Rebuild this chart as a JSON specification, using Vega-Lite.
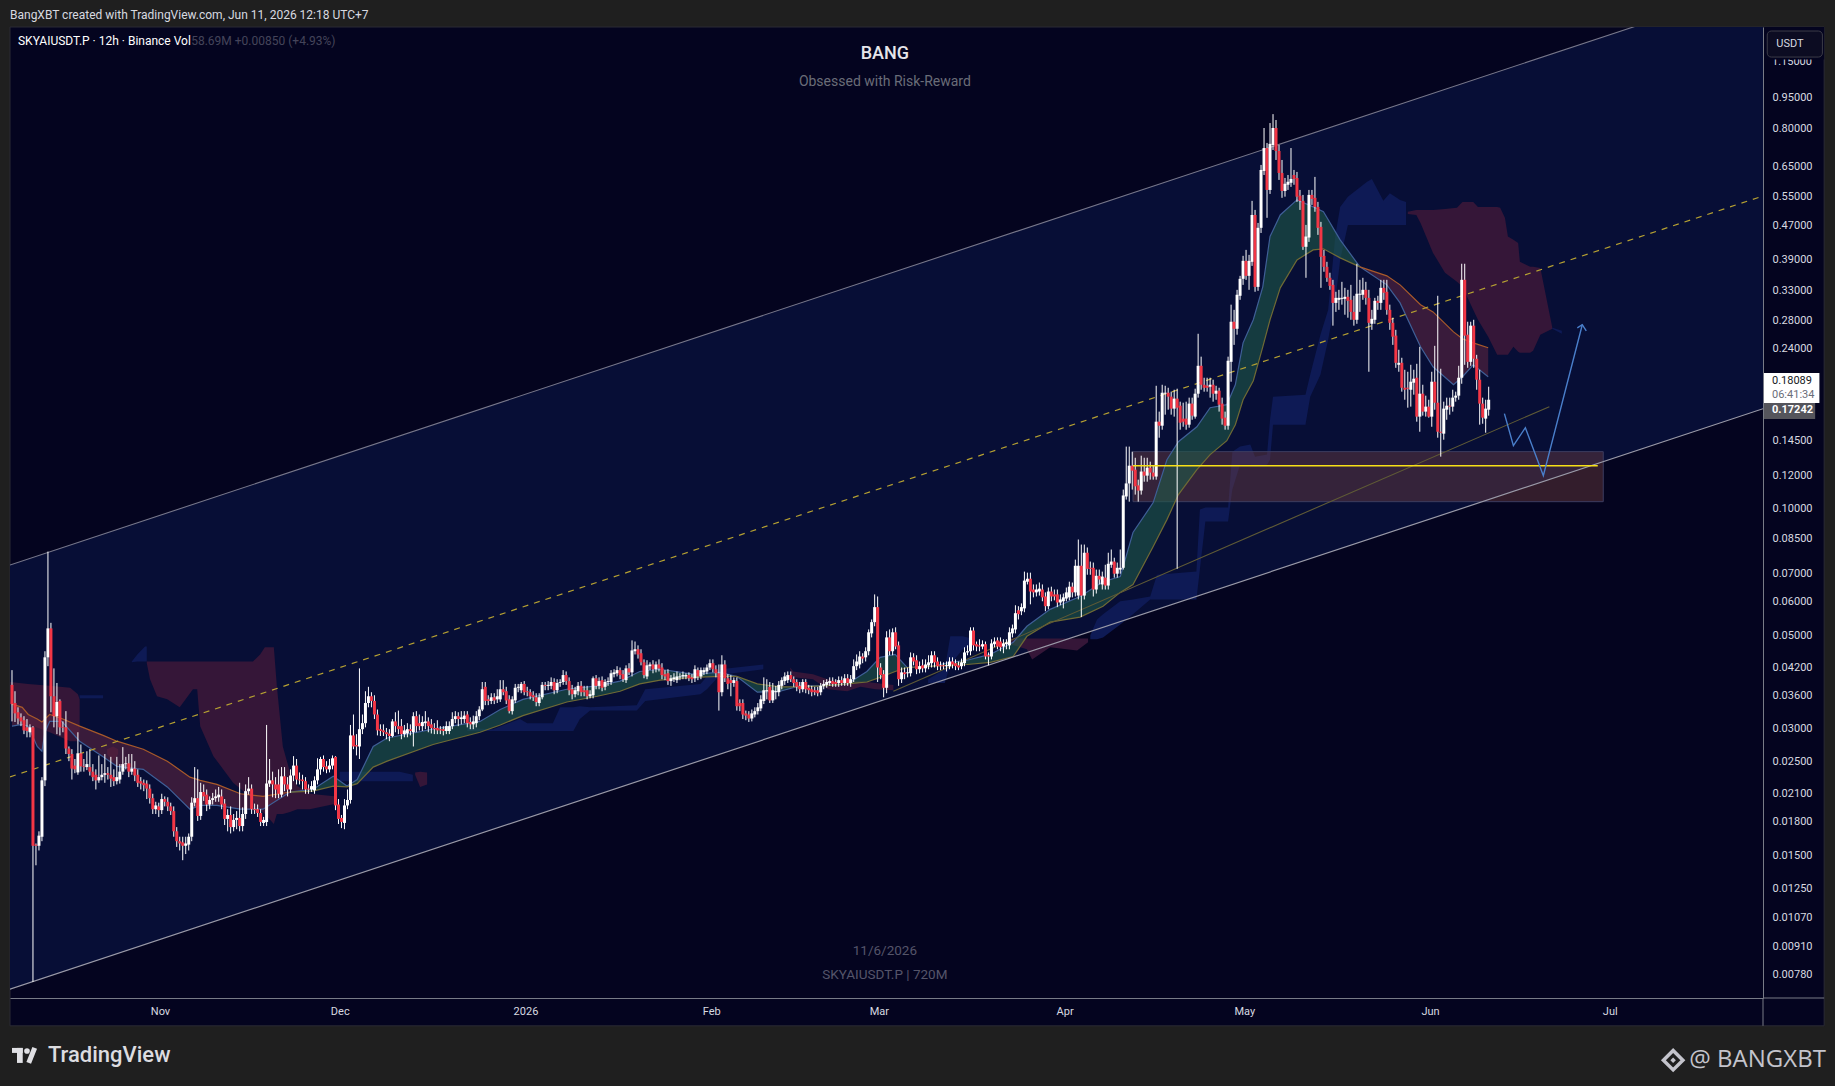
{
"$schema":"https://vega.github.io/schema/vega-lite/v6.json",
"width":1753,"height":971,
"autosize":"none",
"padding":{"left":10,"top":27,"right":72,"bottom":88},
"background":"#1f1f1f",
"config":{"view":{"stroke":null},"font":"Roboto","scale":{"continuousPadding":0}},
"resolve":{"axis":{"x":"independent","y":"independent"},"scale":{"color":"independent"}},
"layer":[
{"data":{"values":[{"d":"2025-10-06T23:00","d2":"2026-08-05T19:00","p":1.3933,"p2":0.0059}]},
 "mark":{"type":"rect","color":"#04041f","stroke":"#2a2a35","strokeWidth":1},
 "encoding":{
  "x":{"field":"d","type":"temporal","title":null,"scale":{"domain":["2025-10-06T23:00","2026-07-26T14:00"],"nice":false},
   "axis":{"zindex":1,"values":["2025-11-01T00:00","2025-12-01T00:00","2026-01-01T00:00","2026-02-01T00:00","2026-03-01T00:00","2026-04-01T00:00","2026-05-01T00:00","2026-06-01T00:00","2026-07-01T00:00"],
    "labelExpr":"month(datum.value)==0?'2026':timeFormat(datum.value,'%b')","grid":false,"ticks":false,"domainColor":"#787b86","labelColor":"#d8dae0","labelFontSize":11,"labelPadding":7,"labelFlush":false,"labelOverlap":false,"title":null}},
  "x2":{"field":"d2"},
  "y":{"field":"p","type":"quantitative","title":null,"scale":{"type":"log","domain":[0.00687,1.3933],"nice":false},
   "axis":{"orient":"right","zindex":1,"values":[0.95,0.8,0.65,0.55,0.47,0.39,0.33,0.28,0.24,0.145,0.12,0.1,0.085,0.07,0.06,0.05,0.042,0.036,0.03,0.025,0.021,0.018,0.015,0.0125,0.0107,0.0091,0.0078],
    "labelExpr":"format(datum.value,'.5f')","grid":false,"ticks":false,"domainColor":"#787b86","labelColor":"#d8dae0","labelFontSize":11,"labelPadding":9,"labelOverlap":false,"title":null}},
  "y2":{"field":"p2"}}},
{"data":{"values":[{"d":"2025-10-06T23:00","top":0.0734,"bot":0.00721},{"d":"2026-07-26T14:00","top":1.763,"bot":0.1726}]},
 "mark":{"type":"area","color":"#070e36","clip":true},
 "encoding":{"x":{"field":"d","type":"temporal","axis":null,"scale":{"domain":["2025-10-06T23:00","2026-07-26T14:00"],"nice":false}},
  "y":{"field":"top","type":"quantitative","axis":null,"scale":{"type":"log","domain":[0.00687,1.3933],"nice":false}},"y2":{"field":"bot"}}},
{"data":{"name":"clouds"},
 "mark":{"type":"area","clip":true},
 "encoding":{"x":{"field":"d","type":"temporal","axis":null,"scale":{"domain":["2025-10-06T23:00","2026-07-26T14:00"],"nice":false}},
  "y":{"field":"top","type":"quantitative","axis":null,"scale":{"type":"log","domain":[0.00687,1.3933],"nice":false}},"y2":{"field":"bot"},
  "detail":{"field":"seg"},
  "color":{"field":"kind","type":"nominal","legend":null,"scale":{"domain":["blue","red"],"range":["#0e1a55","#351638"]}}}},
{"data":{"values":[{"d":"2026-04-12T10:00","d2":"2026-06-29T22:00","p":0.1365,"p2":0.1038}]},
 "mark":{"type":"rect","color":"#7a4440","fillOpacity":0.4,"stroke":"#3d3d60","strokeWidth":1},
 "encoding":{"x":{"field":"d","type":"temporal","axis":null,"scale":{"domain":["2025-10-06T23:00","2026-07-26T14:00"],"nice":false}},"x2":{"field":"d2"},
  "y":{"field":"p","type":"quantitative","axis":null,"scale":{"type":"log","domain":[0.00687,1.3933],"nice":false}},"y2":{"field":"p2"}}},
{"data":{"name":"ribbon"},
 "mark":{"type":"area","clip":true,"opacity":0.6},
 "encoding":{"x":{"field":"d","type":"temporal","axis":null,"scale":{"domain":["2025-10-06T23:00","2026-07-26T14:00"],"nice":false}},
  "y":{"field":"fast","type":"quantitative","axis":null,"scale":{"type":"log","domain":[0.00687,1.3933],"nice":false}},"y2":{"field":"slow"},
  "color":{"field":"trend","type":"nominal","legend":null,"scale":{"domain":["down","up","down2"],"range":["#5c2440","#1f5a48","#5c2440"]}}}},
{"data":{"name":"ribbon"},
 "mark":{"type":"line","clip":true,"strokeWidth":1.2,"color":"#3f5f97"},
 "encoding":{"x":{"field":"d","type":"temporal","axis":null,"scale":{"domain":["2025-10-06T23:00","2026-07-26T14:00"],"nice":false}},
  "y":{"field":"fast","type":"quantitative","axis":null,"scale":{"type":"log","domain":[0.00687,1.3933],"nice":false}},"detail":{"field":"trend"}}},
{"data":{"name":"ribbon"},
 "mark":{"type":"line","clip":true,"strokeWidth":1.2},
 "encoding":{"x":{"field":"d","type":"temporal","axis":null,"scale":{"domain":["2025-10-06T23:00","2026-07-26T14:00"],"nice":false}},
  "y":{"field":"slow","type":"quantitative","axis":null,"scale":{"type":"log","domain":[0.00687,1.3933],"nice":false}},
  "stroke":{"field":"trend","type":"nominal","legend":null,"scale":{"domain":["down","up","down2"],"range":["#a85a2a","#6f6a35","#a85a2a"]}}}},
{"data":{"values":[{"d":"2025-10-06T23:00","top":0.0734},{"d":"2026-07-26T14:00","top":1.763}]},
 "mark":{"type":"line","clip":true,"color":"#77778a","strokeWidth":1.1},
 "encoding":{"x":{"field":"d","type":"temporal","axis":null,"scale":{"domain":["2025-10-06T23:00","2026-07-26T14:00"],"nice":false}},
  "y":{"field":"top","type":"quantitative","axis":null,"scale":{"type":"log","domain":[0.00687,1.3933],"nice":false}}}},
{"data":{"values":[{"d":"2025-10-06T23:00","bot":0.00721},{"d":"2026-07-26T14:00","bot":0.1726}]},
 "mark":{"type":"line","clip":true,"color":"#9a9aa8","strokeWidth":1.2},
 "encoding":{"x":{"field":"d","type":"temporal","axis":null,"scale":{"domain":["2025-10-06T23:00","2026-07-26T14:00"],"nice":false}},
  "y":{"field":"bot","type":"quantitative","axis":null,"scale":{"type":"log","domain":[0.00687,1.3933],"nice":false}}}},
{"data":{"values":[{"d":"2025-10-06T23:00","mid":0.02303},{"d":"2026-07-26T14:00","mid":0.5527}]},
 "mark":{"type":"line","clip":true,"color":"#b5a032","strokeWidth":1.2,"strokeDash":[6,6]},
 "encoding":{"x":{"field":"d","type":"temporal","axis":null,"scale":{"domain":["2025-10-06T23:00","2026-07-26T14:00"],"nice":false}},
  "y":{"field":"mid","type":"quantitative","axis":null,"scale":{"type":"log","domain":[0.00687,1.3933],"nice":false}}}},
{"data":{"values":[{"d":"2026-03-03T10:00","p":0.0368},{"d":"2026-06-20T22:00","p":0.1746}]},
 "mark":{"type":"line","color":"#5f5a36","strokeWidth":1.1},
 "encoding":{"x":{"field":"d","type":"temporal","axis":null,"scale":{"domain":["2025-10-06T23:00","2026-07-26T14:00"],"nice":false}},
  "y":{"field":"p","type":"quantitative","axis":null,"scale":{"type":"log","domain":[0.00687,1.3933],"nice":false}}}},
{"data":{"name":"candles"},
 "mark":{"type":"rule","color":"#ffffff","strokeWidth":1},
 "encoding":{"x":{"field":"d","type":"temporal","axis":null,"scale":{"domain":["2025-10-06T23:00","2026-07-26T14:00"],"nice":false}},
  "y":{"field":"l","type":"quantitative","axis":null,"scale":{"type":"log","domain":[0.00687,1.3933],"nice":false}},"y2":{"field":"h"}}},
{"data":{"name":"candles"},
 "mark":{"type":"bar","size":3,"orient":"vertical"},
 "encoding":{"x":{"field":"d","type":"temporal","axis":null,"scale":{"domain":["2025-10-06T23:00","2026-07-26T14:00"],"nice":false}},
  "y":{"field":"o","type":"quantitative","axis":null,"scale":{"type":"log","domain":[0.00687,1.3933],"nice":false}},"y2":{"field":"c"},
  "color":{"condition":{"test":"datum.c>=datum.o","value":"#ffffff"},"value":"#f23645"}}},
{"data":{"values":[{"d":"2026-04-12T10:00","p":0.1264},{"d":"2026-06-29T00:00","p":0.1264}]},
 "mark":{"type":"line","color":"#f7e017","strokeWidth":1.5},
 "encoding":{"x":{"field":"d","type":"temporal","axis":null,"scale":{"domain":["2025-10-06T23:00","2026-07-26T14:00"],"nice":false}},
  "y":{"field":"p","type":"quantitative","axis":null,"scale":{"type":"log","domain":[0.00687,1.3933],"nice":false}}}},
{"data":{"values":[
 {"part":"path","d":"2026-06-13T10:00","p":0.168},{"part":"path","d":"2026-06-14T22:00","p":0.141},{"part":"path","d":"2026-06-16T22:00","p":0.1556},{"part":"path","d":"2026-06-19T22:00","p":0.1197},{"part":"path","d":"2026-06-26T10:00","p":0.2733},
 {"part":"head","d":"2026-06-25T14:00","p":0.2686},{"part":"head","d":"2026-06-26T10:00","p":0.2733},{"part":"head","d":"2026-06-27T02:00","p":0.2644}]},
 "mark":{"type":"line","color":"#4a7fcb","strokeWidth":1.4},
 "encoding":{"x":{"field":"d","type":"temporal","axis":null,"scale":{"domain":["2025-10-06T23:00","2026-07-26T14:00"],"nice":false}},
  "y":{"field":"p","type":"quantitative","axis":null,"scale":{"type":"log","domain":[0.00687,1.3933],"nice":false}},"detail":{"field":"part"}}},
{"data":{"values":[{"part":"v","d":"2026-07-26T14:00","p":0.00687},{"part":"v","d":"2026-07-26T14:00","p":0.0059},{"part":"h","d":"2026-07-26T14:00","p":0.00687},{"part":"h","d":"2026-08-05T19:00","p":0.00687}]},
 "mark":{"type":"line","color":"#787b86","strokeWidth":1},
 "encoding":{"x":{"field":"d","type":"temporal","axis":null,"scale":{"domain":["2025-10-06T23:00","2026-07-26T14:00"],"nice":false}},
  "y":{"field":"p","type":"quantitative","axis":null,"scale":{"type":"log","domain":[0.00687,1.3933],"nice":false}},"detail":{"field":"part"}}},
{"data":{"values":[{"d":"2026-07-28T02:00","p":1.15,"t":"1.15000"}]},
 "mark":{"type":"text","color":"#d8dae0","fontSize":11,"align":"left"},
 "encoding":{"x":{"field":"d","type":"temporal","axis":null,"scale":{"domain":["2025-10-06T23:00","2026-07-26T14:00"],"nice":false}},
  "y":{"field":"p","type":"quantitative","axis":null,"scale":{"type":"log","domain":[0.00687,1.3933],"nice":false}},"text":{"field":"t"}}},
{"data":{"values":[{"d":"2026-07-26T19:00","d2":"2026-08-05T19:00","p":1.3933,"p2":1.1663}]},
 "mark":{"type":"rect","color":"#04041f"},
 "encoding":{"x":{"field":"d","type":"temporal","axis":null,"scale":{"domain":["2025-10-06T23:00","2026-07-26T14:00"],"nice":false}},"x2":{"field":"d2"},
  "y":{"field":"p","type":"quantitative","axis":null,"scale":{"type":"log","domain":[0.00687,1.3933],"nice":false}},"y2":{"field":"p2"}}},
{"data":{"values":[{"d":"2026-07-27T07:00","d2":"2026-08-05T12:00","p":1.363,"p2":1.182}]},
 "mark":{"type":"rect","color":"#0c0c22","stroke":"#3c3c48","strokeWidth":1,"cornerRadius":4},
 "encoding":{"x":{"field":"d","type":"temporal","axis":null,"scale":{"domain":["2025-10-06T23:00","2026-07-26T14:00"],"nice":false}},"x2":{"field":"d2"},
  "y":{"field":"p","type":"quantitative","axis":null,"scale":{"type":"log","domain":[0.00687,1.3933],"nice":false}},"y2":{"field":"p2"}}},
{"data":{"values":[{"d":"2026-07-26T14:00","d2":"2026-08-05T00:00","p":0.2099,"p2":0.1781}]},
 "mark":{"type":"rect","color":"#ffffff"},
 "encoding":{"x":{"field":"d","type":"temporal","axis":null,"scale":{"domain":["2025-10-06T23:00","2026-07-26T14:00"],"nice":false}},"x2":{"field":"d2"},
  "y":{"field":"p","type":"quantitative","axis":null,"scale":{"type":"log","domain":[0.00687,1.3933],"nice":false}},"y2":{"field":"p2"}}},
{"data":{"values":[{"d":"2026-07-26T14:00","d2":"2026-08-04T07:00","p":0.1781,"p2":0.1632}]},
 "mark":{"type":"rect","color":"#55555c"},
 "encoding":{"x":{"field":"d","type":"temporal","axis":null,"scale":{"domain":["2025-10-06T23:00","2026-07-26T14:00"],"nice":false}},"x2":{"field":"d2"},
  "y":{"field":"p","type":"quantitative","axis":null,"scale":{"type":"log","domain":[0.00687,1.3933],"nice":false}},"y2":{"field":"p2"}}},
{"data":{"values":[{"d":"2026-07-31T02:00","p":1.269,"t":"USDT"}]},
 "mark":{"type":"text","color":"#d8dae0","fontSize":11,"align":"center"},
 "encoding":{"x":{"field":"d","type":"temporal","axis":null,"scale":{"domain":["2025-10-06T23:00","2026-07-26T14:00"],"nice":false}},
  "y":{"field":"p","type":"quantitative","axis":null,"scale":{"type":"log","domain":[0.00687,1.3933],"nice":false}},"text":{"field":"t"}}},
{"data":{"values":[{"d":"2026-07-28T02:00","p":0.2009,"t":"0.18089"}]},
 "mark":{"type":"text","color":"#131722","fontSize":11,"align":"left"},
 "encoding":{"x":{"field":"d","type":"temporal","axis":null,"scale":{"domain":["2025-10-06T23:00","2026-07-26T14:00"],"nice":false}},
  "y":{"field":"p","type":"quantitative","axis":null,"scale":{"type":"log","domain":[0.00687,1.3933],"nice":false}},"text":{"field":"t"}}},
{"data":{"values":[{"d":"2026-07-28T02:00","p":0.1861,"t":"06:41:34"}]},
 "mark":{"type":"text","color":"#6a6d78","fontSize":11,"align":"left"},
 "encoding":{"x":{"field":"d","type":"temporal","axis":null,"scale":{"domain":["2025-10-06T23:00","2026-07-26T14:00"],"nice":false}},
  "y":{"field":"p","type":"quantitative","axis":null,"scale":{"type":"log","domain":[0.00687,1.3933],"nice":false}},"text":{"field":"t"}}},
{"data":{"values":[{"d":"2026-07-28T02:00","p":0.1715,"t":"0.17242"}]},
 "mark":{"type":"text","color":"#ffffff","fontSize":11,"align":"left","fontWeight":"bold"},
 "encoding":{"x":{"field":"d","type":"temporal","axis":null,"scale":{"domain":["2025-10-06T23:00","2026-07-26T14:00"],"nice":false}},
  "y":{"field":"p","type":"quantitative","axis":null,"scale":{"type":"log","domain":[0.00687,1.3933],"nice":false}},"text":{"field":"t"}}},
{"data":{"values":[{"d":"2025-10-06T23:00","p":1.488,"t":"BangXBT created with TradingView.com, Jun 11, 2026 12:18 UTC+7"}]},
 "mark":{"type":"text","color":"#d8dae0","fontSize":12,"align":"left"},
 "encoding":{"x":{"field":"d","type":"temporal","axis":null,"scale":{"domain":["2025-10-06T23:00","2026-07-26T14:00"],"nice":false}},
  "y":{"field":"p","type":"quantitative","axis":null,"scale":{"type":"log","domain":[0.00687,1.3933],"nice":false}},"text":{"field":"t"}}},
{"data":{"values":[{"d":"2025-10-08T07:00","p":1.2906,"t":"SKYAIUSDT.P · 12h · Binance  Vol"}]},
 "mark":{"type":"text","color":"#ffffff","fontSize":12,"align":"left"},
 "encoding":{"x":{"field":"d","type":"temporal","axis":null,"scale":{"domain":["2025-10-06T23:00","2026-07-26T14:00"],"nice":false}},
  "y":{"field":"p","type":"quantitative","axis":null,"scale":{"type":"log","domain":[0.00687,1.3933],"nice":false}},"text":{"field":"t"}}},
{"data":{"values":[{"d":"2025-11-06T05:00","p":1.2906,"t":"58.69M  +0.00850 (+4.93%)"}]},
 "mark":{"type":"text","color":"#44445a","fontSize":12,"align":"left"},
 "encoding":{"x":{"field":"d","type":"temporal","axis":null,"scale":{"domain":["2025-10-06T23:00","2026-07-26T14:00"],"nice":false}},
  "y":{"field":"p","type":"quantitative","axis":null,"scale":{"type":"log","domain":[0.00687,1.3933],"nice":false}},"text":{"field":"t"}}},
{"data":{"values":[{"d":"2026-03-02T00:00","p":1.202,"t":"BANG"}]},
 "mark":{"type":"text","color":"#e6e6ea","fontSize":18,"align":"center","fontWeight":500},
 "encoding":{"x":{"field":"d","type":"temporal","axis":null,"scale":{"domain":["2025-10-06T23:00","2026-07-26T14:00"],"nice":false}},
  "y":{"field":"p","type":"quantitative","axis":null,"scale":{"type":"log","domain":[0.00687,1.3933],"nice":false}},"text":{"field":"t"}}},
{"data":{"values":[{"d":"2026-03-02T00:00","p":1.031,"t":"Obsessed with Risk-Reward"}]},
 "mark":{"type":"text","color":"#6a6d78","fontSize":14,"align":"center"},
 "encoding":{"x":{"field":"d","type":"temporal","axis":null,"scale":{"domain":["2025-10-06T23:00","2026-07-26T14:00"],"nice":false}},
  "y":{"field":"p","type":"quantitative","axis":null,"scale":{"type":"log","domain":[0.00687,1.3933],"nice":false}},"text":{"field":"t"}}},
{"data":{"values":[{"d":"2026-03-02T00:00","p":0.00888,"t":"11/6/2026"},{"d":"2026-03-02T00:00","p":0.0078,"t":"SKYAIUSDT.P | 720M"}]},
 "mark":{"type":"text","color":"#55556a","fontSize":13.5,"align":"center"},
 "encoding":{"x":{"field":"d","type":"temporal","axis":null,"scale":{"domain":["2025-10-06T23:00","2026-07-26T14:00"],"nice":false}},
  "y":{"field":"p","type":"quantitative","axis":null,"scale":{"type":"log","domain":[0.00687,1.3933],"nice":false}},"text":{"field":"t"}}},
{"data":{"values":[{"d":"2025-10-07T07:00","d2":"2025-10-09T02:00","p":0.005228,"p2":0.005087},{"d":"2025-10-08T03:00","d2":"2025-10-09T02:00","p":0.005228,"p2":0.004816}]},
 "mark":{"type":"rect","color":"#e0e0e4"},
 "encoding":{"x":{"field":"d","type":"temporal","axis":null,"scale":{"domain":["2025-10-06T23:00","2026-07-26T14:00"],"nice":false}},"x2":{"field":"d2"},
  "y":{"field":"p","type":"quantitative","axis":null,"scale":{"type":"log","domain":[0.00687,1.3933],"nice":false}},"y2":{"field":"p2"}}},
{"data":{"values":[{"d":"2025-10-09T19:00","p":0.00514}]},
 "mark":{"type":"point","filled":true,"color":"#e0e0e4","size":32,"opacity":1},
 "encoding":{"x":{"field":"d","type":"temporal","axis":null,"scale":{"domain":["2025-10-06T23:00","2026-07-26T14:00"],"nice":false}},
  "y":{"field":"p","type":"quantitative","axis":null,"scale":{"type":"log","domain":[0.00687,1.3933],"nice":false}}}},
{"data":{"values":[{"d":"2025-10-10T02:00","p":0.004816},{"d":"2025-10-11T02:00","p":0.005228}]},
 "mark":{"type":"line","color":"#e0e0e4","strokeWidth":5},
 "encoding":{"x":{"field":"d","type":"temporal","axis":null,"scale":{"domain":["2025-10-06T23:00","2026-07-26T14:00"],"nice":false}},
  "y":{"field":"p","type":"quantitative","axis":null,"scale":{"type":"log","domain":[0.00687,1.3933],"nice":false}}}},
{"data":{"values":[{"d":"2025-10-13T07:00","p":0.00503,"t":"TradingView"}]},
 "mark":{"type":"text","color":"#dcdce0","fontSize":22,"fontWeight":500,"align":"left"},
 "encoding":{"x":{"field":"d","type":"temporal","axis":null,"scale":{"domain":["2025-10-06T23:00","2026-07-26T14:00"],"nice":false}},
  "y":{"field":"p","type":"quantitative","axis":null,"scale":{"type":"log","domain":[0.00687,1.3933],"nice":false}},"text":{"field":"t"}}},
{"data":{"values":[{"d":"2026-07-14T07:00","p":0.00489,"t":"@ BANGXBT"}]},
 "mark":{"type":"text","color":"#c4c4cc","fontSize":24,"font":"Open Sans","align":"left"},
 "encoding":{"x":{"field":"d","type":"temporal","axis":null,"scale":{"domain":["2025-10-06T23:00","2026-07-26T14:00"],"nice":false}},
  "y":{"field":"p","type":"quantitative","axis":null,"scale":{"type":"log","domain":[0.00687,1.3933],"nice":false}},"text":{"field":"t"}}},
{"data":{"values":[{"d":"2026-07-11T14:00","p":0.00489}]},
 "mark":{"type":"point","shape":"diamond","filled":false,"color":"#c4c4cc","strokeWidth":3.5,"size":380,"opacity":1},
 "encoding":{"x":{"field":"d","type":"temporal","axis":null,"scale":{"domain":["2025-10-06T23:00","2026-07-26T14:00"],"nice":false}},
  "y":{"field":"p","type":"quantitative","axis":null,"scale":{"type":"log","domain":[0.00687,1.3933],"nice":false}}}},
{"data":{"values":[{"d":"2026-07-11T14:00","p":0.00489}]},
 "mark":{"type":"point","shape":"diamond","filled":true,"color":"#c4c4cc","size":30,"opacity":1},
 "encoding":{"x":{"field":"d","type":"temporal","axis":null,"scale":{"domain":["2025-10-06T23:00","2026-07-26T14:00"],"nice":false}},
  "y":{"field":"p","type":"quantitative","axis":null,"scale":{"type":"log","domain":[0.00687,1.3933],"nice":false}}}}
],
"datasets":{
"clouds":[
{"seg":1,"kind":"red","d":"2025-10-07T00:00","top":0.0387,"bot":0.0343},{"seg":1,"kind":"red","d":"2025-10-10T00:00","top":0.0383,"bot":0.0307},{"seg":1,"kind":"red","d":"2025-10-13T14:00","top":0.0379,"bot":0.0294},{"seg":1,"kind":"red","d":"2025-10-17T00:00","top":0.0375,"bot":0.028},{"seg":1,"kind":"red","d":"2025-10-18T07:00","top":0.0362,"bot":0.028},{"seg":1,"kind":"red","d":"2025-10-18T14:00","top":0.0352,"bot":0.0294},
{"seg":2,"kind":"blue","d":"2025-10-18T14:00","top":0.036,"bot":0.0354},{"seg":2,"kind":"blue","d":"2025-10-22T12:00","top":0.036,"bot":0.0354},
{"seg":3,"kind":"red","d":"2025-10-23T04:00","top":0.0268,"bot":0.0261},{"seg":3,"kind":"red","d":"2025-10-24T04:00","top":0.0272,"bot":0.025},{"seg":3,"kind":"red","d":"2025-10-25T00:00","top":0.0268,"bot":0.0261},
{"seg":4,"kind":"blue","d":"2025-10-27T07:00","top":0.0433,"bot":0.0431},{"seg":4,"kind":"blue","d":"2025-10-28T05:00","top":0.045,"bot":0.0433},{"seg":4,"kind":"blue","d":"2025-10-29T12:00","top":0.047,"bot":0.0433},{"seg":4,"kind":"blue","d":"2025-10-29T19:00","top":0.047,"bot":0.0433},
{"seg":5,"kind":"red","d":"2025-10-29T19:00","top":0.0433,"bot":0.0429},{"seg":5,"kind":"red","d":"2025-10-30T08:00","top":0.0433,"bot":0.0393},{"seg":5,"kind":"red","d":"2025-10-31T12:00","top":0.0433,"bot":0.0358},{"seg":5,"kind":"red","d":"2025-11-02T05:00","top":0.0433,"bot":0.0352},{"seg":5,"kind":"red","d":"2025-11-04T07:00","top":0.0433,"bot":0.0337},{"seg":5,"kind":"red","d":"2025-11-06T12:00","top":0.0433,"bot":0.0372},{"seg":5,"kind":"red","d":"2025-11-07T05:00","top":0.0433,"bot":0.0372},{"seg":5,"kind":"red","d":"2025-11-07T17:00","top":0.0433,"bot":0.0304},{"seg":5,"kind":"red","d":"2025-11-09T22:00","top":0.0433,"bot":0.0258},{"seg":5,"kind":"red","d":"2025-11-13T05:00","top":0.0433,"bot":0.0223},{"seg":5,"kind":"red","d":"2025-11-16T12:00","top":0.0433,"bot":0.0204},{"seg":5,"kind":"red","d":"2025-11-17T17:00","top":0.045,"bot":0.0193},{"seg":5,"kind":"red","d":"2025-11-18T12:00","top":0.0468,"bot":0.0188},{"seg":5,"kind":"red","d":"2025-11-20T00:00","top":0.0468,"bot":0.0178},{"seg":5,"kind":"red","d":"2025-11-20T12:00","top":0.0379,"bot":0.0188},{"seg":5,"kind":"red","d":"2025-11-21T12:00","top":0.0272,"bot":0.0188},{"seg":5,"kind":"red","d":"2025-11-22T17:00","top":0.0236,"bot":0.019},{"seg":5,"kind":"red","d":"2025-11-23T22:00","top":0.0219,"bot":0.0193},{"seg":5,"kind":"red","d":"2025-11-26T00:00","top":0.021,"bot":0.0193},{"seg":5,"kind":"red","d":"2025-11-30T12:00","top":0.0207,"bot":0.0199},
{"seg":6,"kind":"blue","d":"2025-12-01T00:00","top":0.0237,"bot":0.0225},{"seg":6,"kind":"blue","d":"2025-12-11T00:00","top":0.0237,"bot":0.0225},{"seg":6,"kind":"blue","d":"2025-12-13T05:00","top":0.0233,"bot":0.0225},
{"seg":7,"kind":"red","d":"2025-12-13T14:00","top":0.0236,"bot":0.0233},{"seg":7,"kind":"red","d":"2025-12-14T10:00","top":0.0237,"bot":0.0218},{"seg":7,"kind":"red","d":"2025-12-15T14:00","top":0.0236,"bot":0.0221},
{"seg":8,"kind":"blue","d":"2025-12-22T07:00","top":0.0301,"bot":0.0296},{"seg":8,"kind":"blue","d":"2025-12-26T14:00","top":0.0299,"bot":0.0296},{"seg":8,"kind":"blue","d":"2025-12-31T02:00","top":0.0316,"bot":0.0296},{"seg":8,"kind":"blue","d":"2026-01-01T07:00","top":0.0309,"bot":0.0296},{"seg":8,"kind":"blue","d":"2026-01-05T14:00","top":0.0309,"bot":0.0296},{"seg":8,"kind":"blue","d":"2026-01-06T19:00","top":0.0337,"bot":0.0296},{"seg":8,"kind":"blue","d":"2026-01-09T00:00","top":0.0337,"bot":0.0296},{"seg":8,"kind":"blue","d":"2026-01-10T02:00","top":0.0339,"bot":0.0316},{"seg":8,"kind":"blue","d":"2026-01-11T19:00","top":0.0337,"bot":0.0331},{"seg":8,"kind":"blue","d":"2026-01-19T14:00","top":0.0341,"bot":0.0331},{"seg":8,"kind":"blue","d":"2026-01-21T00:00","top":0.0372,"bot":0.0349},{"seg":8,"kind":"blue","d":"2026-01-30T05:00","top":0.0383,"bot":0.0362},{"seg":8,"kind":"blue","d":"2026-01-31T07:00","top":0.0399,"bot":0.0372},{"seg":8,"kind":"blue","d":"2026-02-02T12:00","top":0.0415,"bot":0.0402},{"seg":8,"kind":"blue","d":"2026-02-09T17:00","top":0.0426,"bot":0.0415},
{"seg":9,"kind":"red","d":"2026-02-14T05:00","top":0.0419,"bot":0.0415},{"seg":9,"kind":"red","d":"2026-02-14T17:00","top":0.041,"bot":0.0397},{"seg":9,"kind":"red","d":"2026-02-18T00:00","top":0.0404,"bot":0.0393},{"seg":9,"kind":"red","d":"2026-02-20T10:00","top":0.0393,"bot":0.0372},{"seg":9,"kind":"red","d":"2026-02-23T17:00","top":0.0389,"bot":0.0368},{"seg":9,"kind":"red","d":"2026-02-25T22:00","top":0.0389,"bot":0.0377},{"seg":9,"kind":"red","d":"2026-02-28T10:00","top":0.0385,"bot":0.0372},{"seg":9,"kind":"red","d":"2026-03-03T10:00","top":0.0381,"bot":0.037},
{"seg":10,"kind":"blue","d":"2026-03-09T05:00","top":0.0393,"bot":0.0385},{"seg":10,"kind":"blue","d":"2026-03-12T00:00","top":0.0415,"bot":0.0385},{"seg":10,"kind":"blue","d":"2026-03-12T22:00","top":0.0497,"bot":0.0426},{"seg":10,"kind":"blue","d":"2026-03-15T00:00","top":0.0497,"bot":0.0463},{"seg":10,"kind":"blue","d":"2026-03-17T00:00","top":0.0489,"bot":0.0476},
{"seg":11,"kind":"red","d":"2026-03-22T22:00","top":0.0491,"bot":0.0476},{"seg":11,"kind":"red","d":"2026-03-25T17:00","top":0.0491,"bot":0.0463},{"seg":11,"kind":"red","d":"2026-03-26T14:00","top":0.0491,"bot":0.0438},{"seg":11,"kind":"red","d":"2026-03-29T14:00","top":0.0491,"bot":0.0468},{"seg":11,"kind":"red","d":"2026-04-03T02:00","top":0.0491,"bot":0.046},{"seg":11,"kind":"red","d":"2026-04-04T22:00","top":0.0491,"bot":0.0481},
{"seg":12,"kind":"blue","d":"2026-04-05T07:00","top":0.05,"bot":0.0489},{"seg":12,"kind":"blue","d":"2026-04-06T10:00","top":0.0545,"bot":0.0489},{"seg":12,"kind":"blue","d":"2026-04-07T10:00","top":0.0561,"bot":0.0494},{"seg":12,"kind":"blue","d":"2026-04-10T07:00","top":0.0602,"bot":0.053},{"seg":12,"kind":"blue","d":"2026-04-12T10:00","top":0.0608,"bot":0.0561},{"seg":12,"kind":"blue","d":"2026-04-15T07:00","top":0.0618,"bot":0.0608},{"seg":12,"kind":"blue","d":"2026-04-16T10:00","top":0.0696,"bot":0.0608},{"seg":12,"kind":"blue","d":"2026-04-23T00:00","top":0.0708,"bot":0.0608},{"seg":12,"kind":"blue","d":"2026-04-23T14:00","top":0.0994,"bot":0.0716},{"seg":12,"kind":"blue","d":"2026-04-24T12:00","top":0.1005,"bot":0.0931},{"seg":12,"kind":"blue","d":"2026-04-28T07:00","top":0.1005,"bot":0.0931},{"seg":12,"kind":"blue","d":"2026-04-29T00:00","top":0.1365,"bot":0.1109},{"seg":12,"kind":"blue","d":"2026-04-30T07:00","top":0.1403,"bot":0.1271},{"seg":12,"kind":"blue","d":"2026-05-02T00:00","top":0.1419,"bot":0.1271},{"seg":12,"kind":"blue","d":"2026-05-02T19:00","top":0.1328,"bot":0.1258},{"seg":12,"kind":"blue","d":"2026-05-04T19:00","top":0.1343,"bot":0.1271},{"seg":12,"kind":"blue","d":"2026-05-05T07:00","top":0.1625,"bot":0.1306},{"seg":12,"kind":"blue","d":"2026-05-05T19:00","top":0.1844,"bot":0.1582},{"seg":12,"kind":"blue","d":"2026-05-11T05:00","top":0.1864,"bot":0.1582},{"seg":12,"kind":"blue","d":"2026-05-12T00:00","top":0.2079,"bot":0.1844},{"seg":12,"kind":"blue","d":"2026-05-13T17:00","top":0.2588,"bot":0.2079},{"seg":12,"kind":"blue","d":"2026-05-15T00:00","top":0.2965,"bot":0.2517},{"seg":12,"kind":"blue","d":"2026-05-16T05:00","top":0.4468,"bot":0.3132},{"seg":12,"kind":"blue","d":"2026-05-17T00:00","top":0.5207,"bot":0.3897},{"seg":12,"kind":"blue","d":"2026-05-18T07:00","top":0.5507,"bot":0.4719},{"seg":12,"kind":"blue","d":"2026-05-21T12:00","top":0.5975,"bot":0.4719},{"seg":12,"kind":"blue","d":"2026-05-22T07:00","top":0.6068,"bot":0.4719},{"seg":12,"kind":"blue","d":"2026-05-24T05:00","top":0.5382,"bot":0.4719},{"seg":12,"kind":"blue","d":"2026-05-25T07:00","top":0.5614,"bot":0.4719},{"seg":12,"kind":"blue","d":"2026-05-27T00:00","top":0.541,"bot":0.4719},{"seg":12,"kind":"blue","d":"2026-05-28T00:00","top":0.5352,"bot":0.4719},
{"seg":13,"kind":"red","d":"2026-05-28T07:00","top":0.507,"bot":0.501},{"seg":13,"kind":"red","d":"2026-05-29T17:00","top":0.5122,"bot":0.4983},{"seg":13,"kind":"red","d":"2026-05-30T10:00","top":0.5122,"bot":0.477},{"seg":13,"kind":"red","d":"2026-06-01T12:00","top":0.5122,"bot":0.4049},{"seg":13,"kind":"red","d":"2026-06-03T12:00","top":0.515,"bot":0.3632},{"seg":13,"kind":"red","d":"2026-06-05T12:00","top":0.518,"bot":0.3456},{"seg":13,"kind":"red","d":"2026-06-06T10:00","top":0.5352,"bot":0.3362},{"seg":13,"kind":"red","d":"2026-06-08T05:00","top":0.5352,"bot":0.2965},{"seg":13,"kind":"red","d":"2026-06-09T00:00","top":0.5207,"bot":0.2808},{"seg":13,"kind":"red","d":"2026-06-10T17:00","top":0.5207,"bot":0.256},{"seg":13,"kind":"red","d":"2026-06-12T05:00","top":0.5207,"bot":0.2318},{"seg":13,"kind":"red","d":"2026-06-12T17:00","top":0.518,"bot":0.2318},{"seg":13,"kind":"red","d":"2026-06-13T12:00","top":0.4905,"bot":0.2318},{"seg":13,"kind":"red","d":"2026-06-14T00:00","top":0.4428,"bot":0.2318},{"seg":13,"kind":"red","d":"2026-06-14T22:00","top":0.4348,"bot":0.2422},{"seg":13,"kind":"red","d":"2026-06-15T17:00","top":0.4272,"bot":0.2357},{"seg":13,"kind":"red","d":"2026-06-16T00:00","top":0.3856,"bot":0.2344},{"seg":13,"kind":"red","d":"2026-06-17T17:00","top":0.3751,"bot":0.2344},{"seg":13,"kind":"red","d":"2026-06-18T05:00","top":0.3751,"bot":0.237},{"seg":13,"kind":"red","d":"2026-06-19T10:00","top":0.373,"bot":0.2588},{"seg":13,"kind":"red","d":"2026-06-21T10:00","top":0.2687,"bot":0.2673},
{"seg":14,"kind":"blue","d":"2026-06-21T10:00","top":0.2687,"bot":0.2673},{"seg":14,"kind":"blue","d":"2026-06-23T00:00","top":0.2644,"bot":0.2601}
],
"ribbon":[
{"trend":"down","d":"2025-10-07T07:00","fast":0.0304,"slow":0.0343},{"trend":"down","d":"2025-10-09T00:00","fast":0.0307,"slow":0.0337},{"trend":"down","d":"2025-10-10T00:00","fast":0.0304,"slow":0.0324},{"trend":"down","d":"2025-10-11T12:00","fast":0.0272,"slow":0.0316},{"trend":"down","d":"2025-10-12T07:00","fast":0.0265,"slow":0.0311},{"trend":"down","d":"2025-10-12T19:00","fast":0.0294,"slow":0.0316},{"trend":"down","d":"2025-10-13T14:00","fast":0.0312,"slow":0.0324},{"trend":"down","d":"2025-10-15T14:00","fast":0.0312,"slow":0.0317},{"trend":"down","d":"2025-10-18T14:00","fast":0.028,"slow":0.0304},{"trend":"down","d":"2025-10-22T12:00","fast":0.0257,"slow":0.0289},{"trend":"down","d":"2025-10-24T19:00","fast":0.0244,"slow":0.028},{"trend":"down","d":"2025-10-29T05:00","fast":0.024,"slow":0.0268},{"trend":"down","d":"2025-11-02T05:00","fast":0.0218,"slow":0.0251},{"trend":"down","d":"2025-11-06T00:00","fast":0.0193,"slow":0.023},{"trend":"down","d":"2025-11-07T17:00","fast":0.0197,"slow":0.0226},{"trend":"down","d":"2025-11-10T12:00","fast":0.0197,"slow":0.0221},{"trend":"down","d":"2025-11-14T10:00","fast":0.0193,"slow":0.021},{"trend":"down","d":"2025-11-18T05:00","fast":0.0193,"slow":0.0207},{"trend":"down","d":"2025-11-22T17:00","fast":0.0212,"slow":0.0212},
{"trend":"up","d":"2025-11-22T17:00","fast":0.0212,"slow":0.0212},{"trend":"up","d":"2025-11-26T12:00","fast":0.0215,"slow":0.0213},{"trend":"up","d":"2025-11-29T22:00","fast":0.0231,"slow":0.0219},{"trend":"up","d":"2025-12-02T05:00","fast":0.0219,"slow":0.0218},{"trend":"up","d":"2025-12-03T22:00","fast":0.0227,"slow":0.0222},{"trend":"up","d":"2025-12-06T14:00","fast":0.0272,"slow":0.0243},{"trend":"up","d":"2025-12-08T22:00","fast":0.0285,"slow":0.0251},{"trend":"up","d":"2025-12-16T14:00","fast":0.0299,"slow":0.0275},{"trend":"up","d":"2025-12-24T10:00","fast":0.0312,"slow":0.0294},{"trend":"up","d":"2025-12-27T19:00","fast":0.0333,"slow":0.0306},{"trend":"up","d":"2025-12-31T14:00","fast":0.0352,"slow":0.0322},{"trend":"up","d":"2026-01-07T22:00","fast":0.0372,"slow":0.0347},{"trend":"up","d":"2026-01-13T00:00","fast":0.0379,"slow":0.0358},{"trend":"up","d":"2026-01-16T19:00","fast":0.0389,"slow":0.0368},{"trend":"up","d":"2026-01-20T02:00","fast":0.041,"slow":0.0383},{"trend":"up","d":"2026-01-23T12:00","fast":0.0415,"slow":0.0391},{"trend":"up","d":"2026-01-29T00:00","fast":0.0404,"slow":0.0397},{"trend":"up","d":"2026-02-02T12:00","fast":0.0408,"slow":0.0399},{"trend":"up","d":"2026-02-05T07:00","fast":0.0399,"slow":0.0399},{"trend":"up","d":"2026-02-08T17:00","fast":0.0366,"slow":0.0383},{"trend":"up","d":"2026-02-12T12:00","fast":0.0368,"slow":0.0377},{"trend":"up","d":"2026-02-15T19:00","fast":0.0379,"slow":0.0377},{"trend":"up","d":"2026-02-19T17:00","fast":0.0379,"slow":0.0379},{"trend":"up","d":"2026-02-23T17:00","fast":0.0383,"slow":0.0383},{"trend":"up","d":"2026-02-27T00:00","fast":0.041,"slow":0.0387},{"trend":"up","d":"2026-03-01T05:00","fast":0.0443,"slow":0.0397},{"trend":"up","d":"2026-03-03T17:00","fast":0.045,"slow":0.041},{"trend":"up","d":"2026-03-05T17:00","fast":0.0419,"slow":0.0419},{"trend":"up","d":"2026-03-10T00:00","fast":0.0422,"slow":0.0422},{"trend":"up","d":"2026-03-12T22:00","fast":0.0431,"slow":0.0424},{"trend":"up","d":"2026-03-15T17:00","fast":0.0436,"slow":0.0426},{"trend":"up","d":"2026-03-19T14:00","fast":0.045,"slow":0.0431},{"trend":"up","d":"2026-03-23T10:00","fast":0.0481,"slow":0.0445},{"trend":"up","d":"2026-03-25T17:00","fast":0.0525,"slow":0.0497},{"trend":"up","d":"2026-03-29T14:00","fast":0.0576,"slow":0.0537},{"trend":"up","d":"2026-04-03T14:00","fast":0.0618,"slow":0.0552},{"trend":"up","d":"2026-04-07T10:00","fast":0.067,"slow":0.0586},{"trend":"up","d":"2026-04-10T07:00","fast":0.0689,"slow":0.0632},{"trend":"up","d":"2026-04-12T10:00","fast":0.0877,"slow":0.066},{"trend":"up","d":"2026-04-15T19:00","fast":0.1033,"slow":0.0812},{"trend":"up","d":"2026-04-18T02:00","fast":0.1306,"slow":0.0941},{"trend":"up","d":"2026-04-20T00:00","fast":0.1441,"slow":0.1079},{"trend":"up","d":"2026-04-23T02:00","fast":0.1564,"slow":0.1237},{"trend":"up","d":"2026-04-25T07:00","fast":0.1736,"slow":0.1343},{"trend":"up","d":"2026-04-28T02:00","fast":0.1765,"slow":0.1449},{"trend":"up","d":"2026-04-29T12:00","fast":0.1968,"slow":0.1582},{"trend":"up","d":"2026-04-30T19:00","fast":0.2475,"slow":0.1813},{"trend":"up","d":"2026-05-02T12:00","fast":0.2808,"slow":0.2012},{"trend":"up","d":"2026-05-04T02:00","fast":0.3362,"slow":0.2422},{"trend":"up","d":"2026-05-05T07:00","fast":0.4428,"slow":0.2808},{"trend":"up","d":"2026-05-07T00:00","fast":0.4983,"slow":0.3344},{"trend":"up","d":"2026-05-09T19:00","fast":0.541,"slow":0.3897},{"trend":"up","d":"2026-05-12T12:00","fast":0.5207,"slow":0.4116},{"trend":"up","d":"2026-05-14T05:00","fast":0.507,"slow":0.414},{"trend":"up","d":"2026-05-17T00:00","fast":0.4348,"slow":0.394},{"trend":"up","d":"2026-05-20T07:00","fast":0.3751,"slow":0.3751},
{"trend":"down2","d":"2026-05-20T07:00","fast":0.3751,"slow":0.3751},{"trend":"down2","d":"2026-05-24T19:00","fast":0.3399,"slow":0.3571},{"trend":"down2","d":"2026-05-27T00:00","fast":0.308,"slow":0.3399},{"trend":"down2","d":"2026-05-30T10:00","fast":0.2422,"slow":0.305},{"trend":"down2","d":"2026-06-01T12:00","fast":0.2171,"slow":0.2932},{"trend":"down2","d":"2026-06-04T22:00","fast":0.1968,"slow":0.2628},{"trend":"down2","d":"2026-06-06T10:00","fast":0.2056,"slow":0.2531},{"trend":"down2","d":"2026-06-08T05:00","fast":0.2195,"slow":0.2475},{"trend":"down2","d":"2026-06-10T17:00","fast":0.2056,"slow":0.2409}
],
"candles":[
{"d":"2025-10-07T07:00","o":0.0381,"h":0.0413,"l":0.0312,"c":0.0343},{"d":"2025-10-07T19:00","o":0.0345,"h":0.0368,"l":0.0311,"c":0.0326},
{"d":"2025-10-08T07:00","o":0.0328,"h":0.0337,"l":0.0307,"c":0.0317},{"d":"2025-10-08T19:00","o":0.0319,"h":0.0326,"l":0.0304,"c":0.0312},
{"d":"2025-10-09T07:00","o":0.0314,"h":0.0321,"l":0.0291,"c":0.0297},{"d":"2025-10-09T19:00","o":0.0302,"h":0.0316,"l":0.0286,"c":0.0296},
{"d":"2025-10-10T07:00","o":0.0294,"h":0.0307,"l":0.0286,"c":0.0302},{"d":"2025-10-10T19:00","o":0.0302,"h":0.0304,"l":0.0075,"c":0.0158},
{"d":"2025-10-11T07:00","o":0.0159,"h":0.016,"l":0.0142,"c":0.0158},{"d":"2025-10-11T19:00","o":0.0158,"h":0.0171,"l":0.0154,"c":0.0167},
{"d":"2025-10-12T07:00","o":0.0166,"h":0.023,"l":0.0162,"c":0.0226},{"d":"2025-10-12T19:00","o":0.0226,"h":0.0458,"l":0.0219,"c":0.0443},
{"d":"2025-10-13T07:00","o":0.0443,"h":0.079,"l":0.0422,"c":0.0519},{"d":"2025-10-13T19:00","o":0.0519,"h":0.0535,"l":0.0328,"c":0.0358},
{"d":"2025-10-14T07:00","o":0.0358,"h":0.0417,"l":0.0302,"c":0.0321},{"d":"2025-10-14T19:00","o":0.0321,"h":0.0385,"l":0.0291,"c":0.0347},
{"d":"2025-10-15T07:00","o":0.0349,"h":0.0352,"l":0.0289,"c":0.0302},{"d":"2025-10-15T19:00","o":0.0302,"h":0.0312,"l":0.0294,"c":0.0301},
{"d":"2025-10-16T07:00","o":0.0302,"h":0.033,"l":0.0261,"c":0.0269},{"d":"2025-10-16T19:00","o":0.0269,"h":0.0272,"l":0.0251,"c":0.0261},
{"d":"2025-10-17T07:00","o":0.0261,"h":0.0268,"l":0.0227,"c":0.0241},{"d":"2025-10-17T19:00","o":0.0245,"h":0.0254,"l":0.0235,"c":0.024},
{"d":"2025-10-18T07:00","o":0.0236,"h":0.0294,"l":0.0233,"c":0.0262},{"d":"2025-10-18T19:00","o":0.0262,"h":0.0275,"l":0.0237,"c":0.0244},
{"d":"2025-10-19T07:00","o":0.0244,"h":0.0254,"l":0.0237,"c":0.0243},{"d":"2025-10-19T19:00","o":0.0243,"h":0.0265,"l":0.0239,"c":0.0247},
{"d":"2025-10-20T07:00","o":0.0243,"h":0.0268,"l":0.0232,"c":0.0237},{"d":"2025-10-20T19:00","o":0.0237,"h":0.0247,"l":0.0225,"c":0.023},
{"d":"2025-10-21T07:00","o":0.0233,"h":0.024,"l":0.0215,"c":0.0226},{"d":"2025-10-21T19:00","o":0.0226,"h":0.0259,"l":0.0223,"c":0.023},
{"d":"2025-10-22T07:00","o":0.023,"h":0.0247,"l":0.0226,"c":0.0233},{"d":"2025-10-22T19:00","o":0.0233,"h":0.0261,"l":0.0223,"c":0.0235},
{"d":"2025-10-23T07:00","o":0.0235,"h":0.0243,"l":0.0227,"c":0.0233},{"d":"2025-10-23T19:00","o":0.0233,"h":0.0257,"l":0.0218,"c":0.0228},
{"d":"2025-10-24T07:00","o":0.023,"h":0.024,"l":0.0219,"c":0.0225},{"d":"2025-10-24T19:00","o":0.0225,"h":0.0257,"l":0.0221,"c":0.023},
{"d":"2025-10-25T07:00","o":0.0227,"h":0.0247,"l":0.0222,"c":0.0237},{"d":"2025-10-25T19:00","o":0.0237,"h":0.0271,"l":0.0233,"c":0.0247},
{"d":"2025-10-26T07:00","o":0.0247,"h":0.0257,"l":0.024,"c":0.0248},{"d":"2025-10-26T19:00","o":0.0248,"h":0.0261,"l":0.023,"c":0.0237},
{"d":"2025-10-27T07:00","o":0.0237,"h":0.0261,"l":0.0233,"c":0.0241},{"d":"2025-10-27T19:00","o":0.0241,"h":0.0251,"l":0.0225,"c":0.0232},
{"d":"2025-10-28T07:00","o":0.0233,"h":0.024,"l":0.0218,"c":0.0223},{"d":"2025-10-28T19:00","o":0.0225,"h":0.023,"l":0.0215,"c":0.0222},
{"d":"2025-10-29T07:00","o":0.0223,"h":0.0227,"l":0.0213,"c":0.022},{"d":"2025-10-29T19:00","o":0.0222,"h":0.0226,"l":0.0204,"c":0.0216},
{"d":"2025-10-30T07:00","o":0.0216,"h":0.0221,"l":0.0199,"c":0.0205},{"d":"2025-10-30T19:00","o":0.0205,"h":0.021,"l":0.0188,"c":0.0193},
{"d":"2025-10-31T07:00","o":0.0193,"h":0.0201,"l":0.0188,"c":0.0197},{"d":"2025-10-31T19:00","o":0.0196,"h":0.02,"l":0.0185,"c":0.0192},
{"d":"2025-11-01T07:00","o":0.0192,"h":0.021,"l":0.0188,"c":0.0204},{"d":"2025-11-01T19:00","o":0.0204,"h":0.0207,"l":0.0196,"c":0.0201},
{"d":"2025-11-02T07:00","o":0.0201,"h":0.0206,"l":0.0191,"c":0.0196},{"d":"2025-11-02T19:00","o":0.0196,"h":0.02,"l":0.0187,"c":0.0191},
{"d":"2025-11-03T07:00","o":0.0191,"h":0.0196,"l":0.0166,"c":0.0171},{"d":"2025-11-03T19:00","o":0.0171,"h":0.0175,"l":0.0157,"c":0.0162},
{"d":"2025-11-04T07:00","o":0.0162,"h":0.0166,"l":0.0154,"c":0.016},{"d":"2025-11-04T19:00","o":0.0161,"h":0.0166,"l":0.0146,"c":0.0158},
{"d":"2025-11-05T07:00","o":0.0158,"h":0.0166,"l":0.0151,"c":0.016},{"d":"2025-11-05T19:00","o":0.0159,"h":0.0169,"l":0.0154,"c":0.0166},
{"d":"2025-11-06T07:00","o":0.0166,"h":0.0206,"l":0.0162,"c":0.02},{"d":"2025-11-06T19:00","o":0.02,"h":0.0243,"l":0.0196,"c":0.0205},
{"d":"2025-11-07T07:00","o":0.0205,"h":0.024,"l":0.0181,"c":0.0186},{"d":"2025-11-07T19:00","o":0.0186,"h":0.0223,"l":0.0182,"c":0.0212},
{"d":"2025-11-08T07:00","o":0.0212,"h":0.0221,"l":0.0202,"c":0.0207},{"d":"2025-11-08T19:00","o":0.0209,"h":0.0215,"l":0.0191,"c":0.0198},
{"d":"2025-11-09T07:00","o":0.0198,"h":0.0207,"l":0.0193,"c":0.0203},{"d":"2025-11-09T19:00","o":0.0203,"h":0.0211,"l":0.0198,"c":0.0205},
{"d":"2025-11-10T07:00","o":0.0205,"h":0.0215,"l":0.0201,"c":0.0207},{"d":"2025-11-10T19:00","o":0.0206,"h":0.0218,"l":0.0201,"c":0.0209},
{"d":"2025-11-11T07:00","o":0.0207,"h":0.0215,"l":0.0193,"c":0.0198},{"d":"2025-11-11T19:00","o":0.0199,"h":0.0204,"l":0.0177,"c":0.0183},
{"d":"2025-11-12T07:00","o":0.0183,"h":0.0193,"l":0.0171,"c":0.0187},{"d":"2025-11-12T19:00","o":0.0187,"h":0.0196,"l":0.0169,"c":0.0175},
{"d":"2025-11-13T07:00","o":0.0175,"h":0.0188,"l":0.0171,"c":0.0182},{"d":"2025-11-13T19:00","o":0.0182,"h":0.0191,"l":0.0173,"c":0.0184},
{"d":"2025-11-14T07:00","o":0.0184,"h":0.0223,"l":0.0171,"c":0.0176},{"d":"2025-11-14T19:00","o":0.0176,"h":0.0195,"l":0.0171,"c":0.0188},
{"d":"2025-11-15T07:00","o":0.0188,"h":0.0221,"l":0.0183,"c":0.0213},{"d":"2025-11-15T19:00","o":0.0213,"h":0.023,"l":0.0209,"c":0.0216},
{"d":"2025-11-16T07:00","o":0.0216,"h":0.0221,"l":0.0188,"c":0.0193},{"d":"2025-11-16T19:00","o":0.0193,"h":0.0199,"l":0.0188,"c":0.0192},
{"d":"2025-11-17T07:00","o":0.0193,"h":0.0198,"l":0.0185,"c":0.0189},{"d":"2025-11-17T19:00","o":0.0189,"h":0.0193,"l":0.0176,"c":0.018},
{"d":"2025-11-18T07:00","o":0.0179,"h":0.0185,"l":0.0176,"c":0.0182},{"d":"2025-11-18T19:00","o":0.018,"h":0.0306,"l":0.0176,"c":0.0222},
{"d":"2025-11-19T07:00","o":0.0222,"h":0.0254,"l":0.0218,"c":0.0226},{"d":"2025-11-19T19:00","o":0.0226,"h":0.0237,"l":0.0206,"c":0.0221},
{"d":"2025-11-20T07:00","o":0.0221,"h":0.023,"l":0.0205,"c":0.0215},{"d":"2025-11-20T19:00","o":0.0221,"h":0.024,"l":0.0205,"c":0.021},
{"d":"2025-11-21T07:00","o":0.0209,"h":0.0243,"l":0.0206,"c":0.0231},{"d":"2025-11-21T19:00","o":0.0231,"h":0.0243,"l":0.0213,"c":0.0221},
{"d":"2025-11-22T07:00","o":0.0221,"h":0.023,"l":0.0207,"c":0.0215},{"d":"2025-11-22T19:00","o":0.0215,"h":0.024,"l":0.0211,"c":0.0232},
{"d":"2025-11-23T07:00","o":0.0232,"h":0.0258,"l":0.0225,"c":0.0245},{"d":"2025-11-23T19:00","o":0.0245,"h":0.0254,"l":0.0221,"c":0.0227},
{"d":"2025-11-24T07:00","o":0.0227,"h":0.0236,"l":0.0221,"c":0.0226},{"d":"2025-11-24T19:00","o":0.0227,"h":0.0233,"l":0.0215,"c":0.0225},
{"d":"2025-11-25T07:00","o":0.0225,"h":0.023,"l":0.021,"c":0.0215},{"d":"2025-11-25T19:00","o":0.0216,"h":0.0221,"l":0.021,"c":0.0215},
{"d":"2025-11-26T07:00","o":0.0215,"h":0.0225,"l":0.0212,"c":0.0219},{"d":"2025-11-26T19:00","o":0.0214,"h":0.0231,"l":0.021,"c":0.0226},
{"d":"2025-11-27T07:00","o":0.0226,"h":0.0255,"l":0.0221,"c":0.024},{"d":"2025-11-27T19:00","o":0.024,"h":0.0257,"l":0.0233,"c":0.0254},
{"d":"2025-11-28T07:00","o":0.0254,"h":0.0259,"l":0.0237,"c":0.0243},{"d":"2025-11-28T19:00","o":0.0244,"h":0.0251,"l":0.0235,"c":0.024},
{"d":"2025-11-29T07:00","o":0.024,"h":0.0254,"l":0.0236,"c":0.0245},{"d":"2025-11-29T19:00","o":0.0245,"h":0.0259,"l":0.024,"c":0.0255},
{"d":"2025-11-30T07:00","o":0.0257,"h":0.0258,"l":0.0192,"c":0.0197},{"d":"2025-11-30T19:00","o":0.0198,"h":0.0204,"l":0.0178,"c":0.0183},
{"d":"2025-12-01T07:00","o":0.0184,"h":0.0187,"l":0.0174,"c":0.018},{"d":"2025-12-01T19:00","o":0.0179,"h":0.0204,"l":0.0173,"c":0.0197},
{"d":"2025-12-02T07:00","o":0.0197,"h":0.0215,"l":0.0193,"c":0.0203},{"d":"2025-12-02T19:00","o":0.0203,"h":0.0306,"l":0.0199,"c":0.0289},
{"d":"2025-12-03T07:00","o":0.0289,"h":0.0324,"l":0.0268,"c":0.0272},{"d":"2025-12-03T19:00","o":0.0274,"h":0.0291,"l":0.0259,"c":0.0272},
{"d":"2025-12-04T07:00","o":0.0272,"h":0.0417,"l":0.0254,"c":0.0299},{"d":"2025-12-04T19:00","o":0.0299,"h":0.0324,"l":0.0291,"c":0.0309},
{"d":"2025-12-05T07:00","o":0.0309,"h":0.0368,"l":0.0302,"c":0.0345},{"d":"2025-12-05T19:00","o":0.0345,"h":0.0377,"l":0.0337,"c":0.0358},
{"d":"2025-12-06T07:00","o":0.0358,"h":0.0366,"l":0.0337,"c":0.0349},{"d":"2025-12-06T19:00","o":0.0349,"h":0.036,"l":0.0316,"c":0.0324},
{"d":"2025-12-07T07:00","o":0.0324,"h":0.0333,"l":0.0289,"c":0.0297},{"d":"2025-12-07T19:00","o":0.0299,"h":0.0307,"l":0.0288,"c":0.0296},
{"d":"2025-12-08T07:00","o":0.0297,"h":0.0307,"l":0.0288,"c":0.0294},{"d":"2025-12-08T19:00","o":0.0294,"h":0.0301,"l":0.0283,"c":0.0291},
{"d":"2025-12-09T07:00","o":0.0292,"h":0.0299,"l":0.028,"c":0.0288},{"d":"2025-12-09T19:00","o":0.0288,"h":0.0316,"l":0.0286,"c":0.0312},
{"d":"2025-12-10T07:00","o":0.0312,"h":0.0328,"l":0.0294,"c":0.0304},{"d":"2025-12-10T19:00","o":0.0304,"h":0.0331,"l":0.0291,"c":0.0299},
{"d":"2025-12-11T07:00","o":0.0304,"h":0.0316,"l":0.0283,"c":0.0291},{"d":"2025-12-11T19:00","o":0.0291,"h":0.0306,"l":0.0286,"c":0.0297},
{"d":"2025-12-12T07:00","o":0.0292,"h":0.0309,"l":0.0286,"c":0.0299},{"d":"2025-12-12T19:00","o":0.0299,"h":0.0307,"l":0.0289,"c":0.0296},
{"d":"2025-12-13T07:00","o":0.0294,"h":0.0328,"l":0.0272,"c":0.0321},{"d":"2025-12-13T19:00","o":0.0321,"h":0.033,"l":0.0294,"c":0.0304},
{"d":"2025-12-14T07:00","o":0.0309,"h":0.0324,"l":0.0297,"c":0.0304},{"d":"2025-12-14T19:00","o":0.0304,"h":0.0321,"l":0.0296,"c":0.0311},
{"d":"2025-12-15T07:00","o":0.0309,"h":0.033,"l":0.0299,"c":0.0312},{"d":"2025-12-15T19:00","o":0.0312,"h":0.0319,"l":0.0294,"c":0.0304},
{"d":"2025-12-16T07:00","o":0.0307,"h":0.0316,"l":0.0292,"c":0.0301},{"d":"2025-12-16T19:00","o":0.0301,"h":0.0309,"l":0.0291,"c":0.0299},
{"d":"2025-12-17T07:00","o":0.0301,"h":0.0314,"l":0.0291,"c":0.0297},{"d":"2025-12-17T19:00","o":0.0299,"h":0.0304,"l":0.0291,"c":0.0297},
{"d":"2025-12-18T07:00","o":0.0299,"h":0.0304,"l":0.0289,"c":0.0296},{"d":"2025-12-18T19:00","o":0.0296,"h":0.0312,"l":0.0291,"c":0.0304},
{"d":"2025-12-19T07:00","o":0.0296,"h":0.0312,"l":0.0291,"c":0.0304},{"d":"2025-12-19T19:00","o":0.0304,"h":0.0328,"l":0.0299,"c":0.0316},
{"d":"2025-12-20T07:00","o":0.0316,"h":0.033,"l":0.0309,"c":0.0321},{"d":"2025-12-20T19:00","o":0.0321,"h":0.0328,"l":0.0304,"c":0.0316},
{"d":"2025-12-21T07:00","o":0.0316,"h":0.033,"l":0.0307,"c":0.0319},{"d":"2025-12-21T19:00","o":0.0316,"h":0.033,"l":0.0309,"c":0.0322},
{"d":"2025-12-22T07:00","o":0.0324,"h":0.033,"l":0.0302,"c":0.0309},{"d":"2025-12-22T19:00","o":0.0311,"h":0.0319,"l":0.0299,"c":0.0307},
{"d":"2025-12-23T07:00","o":0.0307,"h":0.0322,"l":0.0299,"c":0.0312},{"d":"2025-12-23T19:00","o":0.0309,"h":0.033,"l":0.0302,"c":0.0321},
{"d":"2025-12-24T07:00","o":0.0321,"h":0.0339,"l":0.0314,"c":0.0333},{"d":"2025-12-24T19:00","o":0.0333,"h":0.0387,"l":0.033,"c":0.0372},
{"d":"2025-12-25T07:00","o":0.0377,"h":0.0387,"l":0.0341,"c":0.0349},{"d":"2025-12-25T19:00","o":0.0352,"h":0.036,"l":0.0341,"c":0.0349},
{"d":"2025-12-26T07:00","o":0.0349,"h":0.0364,"l":0.0343,"c":0.0356},{"d":"2025-12-26T19:00","o":0.0356,"h":0.0364,"l":0.0343,"c":0.035},
{"d":"2025-12-27T07:00","o":0.0352,"h":0.0372,"l":0.0345,"c":0.0358},{"d":"2025-12-27T19:00","o":0.0352,"h":0.0391,"l":0.0347,"c":0.0372},
{"d":"2025-12-28T07:00","o":0.0372,"h":0.0391,"l":0.036,"c":0.0366},{"d":"2025-12-28T19:00","o":0.0368,"h":0.0377,"l":0.0343,"c":0.035},
{"d":"2025-12-29T07:00","o":0.0352,"h":0.036,"l":0.0326,"c":0.033},{"d":"2025-12-29T19:00","o":0.033,"h":0.0358,"l":0.0324,"c":0.0352},
{"d":"2025-12-30T07:00","o":0.035,"h":0.0383,"l":0.0345,"c":0.0375},{"d":"2025-12-30T19:00","o":0.0375,"h":0.0383,"l":0.0366,"c":0.0377},
{"d":"2025-12-31T07:00","o":0.037,"h":0.0387,"l":0.0364,"c":0.0383},{"d":"2025-12-31T19:00","o":0.0383,"h":0.0389,"l":0.036,"c":0.0366},
{"d":"2026-01-01T07:00","o":0.0368,"h":0.0377,"l":0.0358,"c":0.0366},{"d":"2026-01-01T19:00","o":0.0366,"h":0.0372,"l":0.0352,"c":0.0358},
{"d":"2026-01-02T07:00","o":0.036,"h":0.0368,"l":0.0349,"c":0.0356},{"d":"2026-01-02T19:00","o":0.0356,"h":0.0364,"l":0.0339,"c":0.0347},
{"d":"2026-01-03T07:00","o":0.0345,"h":0.0364,"l":0.0339,"c":0.0356},{"d":"2026-01-03T19:00","o":0.0356,"h":0.0387,"l":0.0352,"c":0.0381},
{"d":"2026-01-04T07:00","o":0.0381,"h":0.0387,"l":0.037,"c":0.0379},{"d":"2026-01-04T19:00","o":0.0379,"h":0.0389,"l":0.037,"c":0.0381},
{"d":"2026-01-05T07:00","o":0.0379,"h":0.0397,"l":0.0372,"c":0.0387},{"d":"2026-01-05T19:00","o":0.0387,"h":0.0395,"l":0.0362,"c":0.037},
{"d":"2026-01-06T07:00","o":0.037,"h":0.0393,"l":0.0364,"c":0.0385},{"d":"2026-01-06T19:00","o":0.0385,"h":0.0393,"l":0.0377,"c":0.0387},
{"d":"2026-01-07T07:00","o":0.0387,"h":0.0413,"l":0.0381,"c":0.0402},{"d":"2026-01-07T19:00","o":0.0402,"h":0.041,"l":0.0381,"c":0.0389},
{"d":"2026-01-08T07:00","o":0.0389,"h":0.0397,"l":0.036,"c":0.037},{"d":"2026-01-08T19:00","o":0.0372,"h":0.0381,"l":0.0352,"c":0.0362},
{"d":"2026-01-09T07:00","o":0.0362,"h":0.0377,"l":0.0356,"c":0.037},{"d":"2026-01-09T19:00","o":0.0368,"h":0.0387,"l":0.036,"c":0.0379},
{"d":"2026-01-10T07:00","o":0.0379,"h":0.0389,"l":0.0358,"c":0.0366},{"d":"2026-01-10T19:00","o":0.037,"h":0.0379,"l":0.0358,"c":0.0366},
{"d":"2026-01-11T07:00","o":0.037,"h":0.0379,"l":0.0352,"c":0.0358},{"d":"2026-01-11T19:00","o":0.0358,"h":0.037,"l":0.0354,"c":0.0362},
{"d":"2026-01-12T07:00","o":0.036,"h":0.0399,"l":0.0354,"c":0.0395},{"d":"2026-01-12T19:00","o":0.0395,"h":0.0402,"l":0.0372,"c":0.0379},
{"d":"2026-01-13T07:00","o":0.0379,"h":0.0397,"l":0.0372,"c":0.0389},{"d":"2026-01-13T19:00","o":0.0391,"h":0.0399,"l":0.0368,"c":0.0375},
{"d":"2026-01-14T07:00","o":0.0377,"h":0.0393,"l":0.037,"c":0.0387},{"d":"2026-01-14T19:00","o":0.0387,"h":0.0397,"l":0.0379,"c":0.0389},
{"d":"2026-01-15T07:00","o":0.0387,"h":0.0413,"l":0.0381,"c":0.0406},{"d":"2026-01-15T19:00","o":0.0404,"h":0.0415,"l":0.0397,"c":0.0408},
{"d":"2026-01-16T07:00","o":0.0406,"h":0.0422,"l":0.0399,"c":0.0413},{"d":"2026-01-16T19:00","o":0.0413,"h":0.0419,"l":0.0393,"c":0.0402},
{"d":"2026-01-17T07:00","o":0.0404,"h":0.0413,"l":0.0387,"c":0.0393},{"d":"2026-01-17T19:00","o":0.0391,"h":0.0424,"l":0.0385,"c":0.0417},
{"d":"2026-01-18T07:00","o":0.0417,"h":0.0429,"l":0.0402,"c":0.0408},{"d":"2026-01-18T19:00","o":0.0408,"h":0.0486,"l":0.0399,"c":0.046},
{"d":"2026-01-19T07:00","o":0.0458,"h":0.0483,"l":0.045,"c":0.0463},{"d":"2026-01-19T19:00","o":0.0463,"h":0.0473,"l":0.044,"c":0.045},
{"d":"2026-01-20T07:00","o":0.0453,"h":0.0463,"l":0.0424,"c":0.0431},{"d":"2026-01-20T19:00","o":0.0431,"h":0.0438,"l":0.0395,"c":0.0402},
{"d":"2026-01-21T07:00","o":0.0399,"h":0.0436,"l":0.0393,"c":0.0424},{"d":"2026-01-21T19:00","o":0.0422,"h":0.0431,"l":0.0413,"c":0.0426},
{"d":"2026-01-22T07:00","o":0.0426,"h":0.0436,"l":0.0406,"c":0.0415},{"d":"2026-01-22T19:00","o":0.0415,"h":0.0433,"l":0.0408,"c":0.0426},
{"d":"2026-01-23T07:00","o":0.0426,"h":0.0438,"l":0.041,"c":0.0417},{"d":"2026-01-23T19:00","o":0.0419,"h":0.0429,"l":0.0393,"c":0.0402},
{"d":"2026-01-24T07:00","o":0.0404,"h":0.0413,"l":0.0391,"c":0.0399},{"d":"2026-01-24T19:00","o":0.0406,"h":0.0415,"l":0.0381,"c":0.0389},
{"d":"2026-01-25T07:00","o":0.0389,"h":0.0402,"l":0.0379,"c":0.0395},{"d":"2026-01-25T19:00","o":0.0393,"h":0.0406,"l":0.0387,"c":0.0397},
{"d":"2026-01-26T07:00","o":0.0391,"h":0.041,"l":0.0385,"c":0.0399},{"d":"2026-01-26T19:00","o":0.0397,"h":0.0406,"l":0.0391,"c":0.0399},
{"d":"2026-01-27T07:00","o":0.0399,"h":0.041,"l":0.0393,"c":0.0402},{"d":"2026-01-27T19:00","o":0.0399,"h":0.0406,"l":0.0393,"c":0.0402},
{"d":"2026-01-28T07:00","o":0.0402,"h":0.0408,"l":0.0389,"c":0.0395},{"d":"2026-01-28T19:00","o":0.0397,"h":0.0404,"l":0.0385,"c":0.0393},
{"d":"2026-01-29T07:00","o":0.0395,"h":0.0424,"l":0.0387,"c":0.0415},{"d":"2026-01-29T19:00","o":0.0413,"h":0.0419,"l":0.0391,"c":0.0399},
{"d":"2026-01-30T07:00","o":0.0399,"h":0.0419,"l":0.0393,"c":0.0413},{"d":"2026-01-30T19:00","o":0.0408,"h":0.0419,"l":0.0402,"c":0.0413},
{"d":"2026-01-31T07:00","o":0.041,"h":0.0426,"l":0.0404,"c":0.0419},{"d":"2026-01-31T19:00","o":0.0419,"h":0.0438,"l":0.0413,"c":0.0429},
{"d":"2026-02-01T07:00","o":0.0429,"h":0.0438,"l":0.0408,"c":0.0415},{"d":"2026-02-01T19:00","o":0.0415,"h":0.0424,"l":0.0397,"c":0.0406},
{"d":"2026-02-02T07:00","o":0.0406,"h":0.0426,"l":0.0331,"c":0.0366},{"d":"2026-02-02T19:00","o":0.0366,"h":0.0448,"l":0.0358,"c":0.0426},
{"d":"2026-02-03T07:00","o":0.0426,"h":0.0436,"l":0.0387,"c":0.0395},{"d":"2026-02-03T19:00","o":0.0395,"h":0.0404,"l":0.0372,"c":0.0383},
{"d":"2026-02-04T07:00","o":0.0391,"h":0.0402,"l":0.0358,"c":0.0385},{"d":"2026-02-04T19:00","o":0.0385,"h":0.0397,"l":0.0377,"c":0.0391},
{"d":"2026-02-05T07:00","o":0.0389,"h":0.0397,"l":0.0331,"c":0.0339},{"d":"2026-02-05T19:00","o":0.0345,"h":0.0352,"l":0.033,"c":0.0339},
{"d":"2026-02-06T07:00","o":0.0345,"h":0.0352,"l":0.0316,"c":0.0324},{"d":"2026-02-06T19:00","o":0.0326,"h":0.0331,"l":0.0314,"c":0.0322},
{"d":"2026-02-07T07:00","o":0.0324,"h":0.033,"l":0.0311,"c":0.0317},{"d":"2026-02-07T19:00","o":0.0317,"h":0.0333,"l":0.0312,"c":0.0326},
{"d":"2026-02-08T07:00","o":0.0324,"h":0.0337,"l":0.0319,"c":0.033},{"d":"2026-02-08T19:00","o":0.033,"h":0.0345,"l":0.0324,"c":0.0337},
{"d":"2026-02-09T07:00","o":0.0335,"h":0.036,"l":0.033,"c":0.0352},{"d":"2026-02-09T19:00","o":0.0349,"h":0.0397,"l":0.0343,"c":0.037},
{"d":"2026-02-10T07:00","o":0.0368,"h":0.0393,"l":0.0352,"c":0.037},{"d":"2026-02-10T19:00","o":0.0377,"h":0.0387,"l":0.0345,"c":0.035},
{"d":"2026-02-11T07:00","o":0.035,"h":0.0385,"l":0.0345,"c":0.037},{"d":"2026-02-11T19:00","o":0.0366,"h":0.0379,"l":0.0352,"c":0.0368},
{"d":"2026-02-12T07:00","o":0.0366,"h":0.0389,"l":0.0358,"c":0.0381},{"d":"2026-02-12T19:00","o":0.0379,"h":0.0397,"l":0.0372,"c":0.0391},
{"d":"2026-02-13T07:00","o":0.0389,"h":0.0408,"l":0.0381,"c":0.0399},{"d":"2026-02-13T19:00","o":0.0391,"h":0.041,"l":0.0385,"c":0.0402},
{"d":"2026-02-14T07:00","o":0.0402,"h":0.041,"l":0.0387,"c":0.0393},{"d":"2026-02-14T19:00","o":0.0393,"h":0.0399,"l":0.0377,"c":0.0385},
{"d":"2026-02-15T07:00","o":0.0387,"h":0.0393,"l":0.0368,"c":0.0377},{"d":"2026-02-15T19:00","o":0.0379,"h":0.0387,"l":0.0364,"c":0.0372},
{"d":"2026-02-16T07:00","o":0.0372,"h":0.0393,"l":0.0366,"c":0.0387},{"d":"2026-02-16T19:00","o":0.0387,"h":0.0393,"l":0.0364,"c":0.0372},
{"d":"2026-02-17T07:00","o":0.0375,"h":0.0381,"l":0.0362,"c":0.037},{"d":"2026-02-17T19:00","o":0.0372,"h":0.0379,"l":0.0358,"c":0.0366},
{"d":"2026-02-18T07:00","o":0.037,"h":0.0377,"l":0.036,"c":0.0366},{"d":"2026-02-18T19:00","o":0.037,"h":0.0377,"l":0.0358,"c":0.0364},
{"d":"2026-02-19T07:00","o":0.0366,"h":0.0385,"l":0.036,"c":0.0379},{"d":"2026-02-19T19:00","o":0.0379,"h":0.0391,"l":0.0372,"c":0.0383},
{"d":"2026-02-20T07:00","o":0.0381,"h":0.0393,"l":0.0375,"c":0.0387},{"d":"2026-02-20T19:00","o":0.0385,"h":0.0397,"l":0.0379,"c":0.0389},
{"d":"2026-02-21T07:00","o":0.0389,"h":0.0397,"l":0.0377,"c":0.0383},{"d":"2026-02-21T19:00","o":0.0387,"h":0.0393,"l":0.0377,"c":0.0383},
{"d":"2026-02-22T07:00","o":0.0385,"h":0.0399,"l":0.0377,"c":0.0391},{"d":"2026-02-22T19:00","o":0.0391,"h":0.0399,"l":0.0379,"c":0.0385},
{"d":"2026-02-23T07:00","o":0.0385,"h":0.0404,"l":0.0379,"c":0.0395},{"d":"2026-02-23T19:00","o":0.0395,"h":0.0404,"l":0.0379,"c":0.0385},
{"d":"2026-02-24T07:00","o":0.0385,"h":0.0402,"l":0.0377,"c":0.0393},{"d":"2026-02-24T19:00","o":0.0393,"h":0.0438,"l":0.0387,"c":0.0422},
{"d":"2026-02-25T07:00","o":0.0422,"h":0.045,"l":0.0413,"c":0.0433},{"d":"2026-02-25T19:00","o":0.0426,"h":0.0458,"l":0.0417,"c":0.0445},
{"d":"2026-02-26T07:00","o":0.0445,"h":0.0453,"l":0.0429,"c":0.044},{"d":"2026-02-26T19:00","o":0.0443,"h":0.0468,"l":0.0433,"c":0.0458},
{"d":"2026-02-27T07:00","o":0.0458,"h":0.0516,"l":0.0448,"c":0.0508},{"d":"2026-02-27T19:00","o":0.0505,"h":0.0545,"l":0.0494,"c":0.0537},
{"d":"2026-02-28T07:00","o":0.0537,"h":0.0625,"l":0.0525,"c":0.0583},{"d":"2026-02-28T19:00","o":0.0583,"h":0.0618,"l":0.0387,"c":0.0419},
{"d":"2026-03-01T07:00","o":0.0419,"h":0.0429,"l":0.0393,"c":0.0402},{"d":"2026-03-01T19:00","o":0.0404,"h":0.0413,"l":0.0356,"c":0.0375},
{"d":"2026-03-02T07:00","o":0.0375,"h":0.0511,"l":0.0364,"c":0.0494},{"d":"2026-03-02T19:00","o":0.0494,"h":0.0516,"l":0.0448,"c":0.0458},
{"d":"2026-03-03T07:00","o":0.0458,"h":0.0519,"l":0.0448,"c":0.0508},{"d":"2026-03-03T19:00","o":0.0508,"h":0.0522,"l":0.0463,"c":0.047},
{"d":"2026-03-04T07:00","o":0.0473,"h":0.0483,"l":0.0379,"c":0.0393},{"d":"2026-03-04T19:00","o":0.0393,"h":0.0419,"l":0.0385,"c":0.0408},
{"d":"2026-03-05T07:00","o":0.0408,"h":0.0419,"l":0.0393,"c":0.0404},{"d":"2026-03-05T19:00","o":0.0406,"h":0.0419,"l":0.0397,"c":0.0408},
{"d":"2026-03-06T07:00","o":0.0406,"h":0.0455,"l":0.0399,"c":0.0443},{"d":"2026-03-06T19:00","o":0.0443,"h":0.0453,"l":0.0424,"c":0.0433},
{"d":"2026-03-07T07:00","o":0.0436,"h":0.0448,"l":0.0404,"c":0.0415},{"d":"2026-03-07T19:00","o":0.0415,"h":0.0433,"l":0.0406,"c":0.0422},
{"d":"2026-03-08T07:00","o":0.0424,"h":0.0438,"l":0.0408,"c":0.0417},{"d":"2026-03-08T19:00","o":0.0417,"h":0.0438,"l":0.0408,"c":0.0426},
{"d":"2026-03-09T07:00","o":0.0424,"h":0.0448,"l":0.0415,"c":0.0431},{"d":"2026-03-09T19:00","o":0.0429,"h":0.0458,"l":0.0419,"c":0.0448},
{"d":"2026-03-10T07:00","o":0.0448,"h":0.0458,"l":0.0419,"c":0.0431},{"d":"2026-03-10T19:00","o":0.0433,"h":0.0443,"l":0.0413,"c":0.0422},
{"d":"2026-03-11T07:00","o":0.0424,"h":0.0433,"l":0.0413,"c":0.0422},{"d":"2026-03-11T19:00","o":0.0424,"h":0.0431,"l":0.0415,"c":0.0422},
{"d":"2026-03-12T07:00","o":0.0422,"h":0.0433,"l":0.041,"c":0.0424},{"d":"2026-03-12T19:00","o":0.0422,"h":0.0443,"l":0.0415,"c":0.0433},
{"d":"2026-03-13T07:00","o":0.0433,"h":0.0443,"l":0.0417,"c":0.0426},{"d":"2026-03-13T19:00","o":0.0429,"h":0.0438,"l":0.0413,"c":0.0422},
{"d":"2026-03-14T07:00","o":0.0424,"h":0.0433,"l":0.0413,"c":0.0419},{"d":"2026-03-14T19:00","o":0.0422,"h":0.044,"l":0.0415,"c":0.0431},
{"d":"2026-03-15T07:00","o":0.0429,"h":0.0468,"l":0.0422,"c":0.0455},{"d":"2026-03-15T19:00","o":0.0455,"h":0.0473,"l":0.0448,"c":0.0458},
{"d":"2026-03-16T07:00","o":0.0458,"h":0.0522,"l":0.0448,"c":0.0513},{"d":"2026-03-16T19:00","o":0.0513,"h":0.0522,"l":0.046,"c":0.0473},
{"d":"2026-03-17T07:00","o":0.0476,"h":0.0483,"l":0.0458,"c":0.047},{"d":"2026-03-17T19:00","o":0.0473,"h":0.0489,"l":0.0458,"c":0.047},
{"d":"2026-03-18T07:00","o":0.047,"h":0.0486,"l":0.0463,"c":0.0476},{"d":"2026-03-18T19:00","o":0.0476,"h":0.0483,"l":0.0438,"c":0.0445},
{"d":"2026-03-19T07:00","o":0.0448,"h":0.0455,"l":0.0424,"c":0.0445},{"d":"2026-03-19T19:00","o":0.0445,"h":0.0489,"l":0.0438,"c":0.0478},
{"d":"2026-03-20T07:00","o":0.0476,"h":0.0494,"l":0.0468,"c":0.0483},{"d":"2026-03-20T19:00","o":0.0486,"h":0.0494,"l":0.0463,"c":0.047},
{"d":"2026-03-21T07:00","o":0.0483,"h":0.0494,"l":0.0458,"c":0.0468},{"d":"2026-03-21T19:00","o":0.047,"h":0.0489,"l":0.0453,"c":0.0478},
{"d":"2026-03-22T07:00","o":0.0476,"h":0.0489,"l":0.0463,"c":0.0481},{"d":"2026-03-22T19:00","o":0.0473,"h":0.0522,"l":0.0463,"c":0.0508},
{"d":"2026-03-23T07:00","o":0.0505,"h":0.053,"l":0.0494,"c":0.0519},{"d":"2026-03-23T19:00","o":0.0516,"h":0.0589,"l":0.0505,"c":0.0564},
{"d":"2026-03-24T07:00","o":0.0573,"h":0.0586,"l":0.0545,"c":0.0561},{"d":"2026-03-24T19:00","o":0.057,"h":0.0595,"l":0.0558,"c":0.0583},
{"d":"2026-03-25T07:00","o":0.0579,"h":0.0708,"l":0.0567,"c":0.0674},{"d":"2026-03-25T19:00","o":0.067,"h":0.0704,"l":0.066,"c":0.0681},
{"d":"2026-03-26T07:00","o":0.0681,"h":0.0704,"l":0.0592,"c":0.0635},{"d":"2026-03-26T19:00","o":0.0642,"h":0.066,"l":0.0615,"c":0.0632},
{"d":"2026-03-27T07:00","o":0.0632,"h":0.066,"l":0.0618,"c":0.0642},{"d":"2026-03-27T19:00","o":0.0635,"h":0.0667,"l":0.0621,"c":0.0645},
{"d":"2026-03-28T07:00","o":0.0642,"h":0.066,"l":0.0602,"c":0.0615},{"d":"2026-03-28T19:00","o":0.0618,"h":0.0632,"l":0.057,"c":0.0586},
{"d":"2026-03-29T07:00","o":0.0586,"h":0.0649,"l":0.0576,"c":0.0635},{"d":"2026-03-29T19:00","o":0.0635,"h":0.0652,"l":0.0602,"c":0.0618},
{"d":"2026-03-30T07:00","o":0.0625,"h":0.0642,"l":0.0605,"c":0.0618},{"d":"2026-03-30T19:00","o":0.0625,"h":0.0642,"l":0.0583,"c":0.0598},
{"d":"2026-03-31T07:00","o":0.0598,"h":0.0625,"l":0.0589,"c":0.0608},{"d":"2026-03-31T19:00","o":0.0602,"h":0.0628,"l":0.0579,"c":0.0615},
{"d":"2026-04-01T07:00","o":0.0611,"h":0.0649,"l":0.0602,"c":0.0632},{"d":"2026-04-01T19:00","o":0.0615,"h":0.067,"l":0.0605,"c":0.0652},
{"d":"2026-04-02T07:00","o":0.0652,"h":0.0667,"l":0.0615,"c":0.0632},{"d":"2026-04-02T19:00","o":0.0632,"h":0.0756,"l":0.0618,"c":0.0731},
{"d":"2026-04-03T07:00","o":0.0621,"h":0.0844,"l":0.0608,"c":0.0731},{"d":"2026-04-03T19:00","o":0.0731,"h":0.0821,"l":0.0552,"c":0.0621},
{"d":"2026-04-04T07:00","o":0.0621,"h":0.0821,"l":0.0608,"c":0.0785},{"d":"2026-04-04T19:00","o":0.0785,"h":0.0808,"l":0.0696,"c":0.0719},
{"d":"2026-04-05T07:00","o":0.0723,"h":0.0748,"l":0.0696,"c":0.0719},{"d":"2026-04-05T19:00","o":0.0723,"h":0.0744,"l":0.0618,"c":0.0642},
{"d":"2026-04-06T07:00","o":0.0642,"h":0.0716,"l":0.0628,"c":0.0692},{"d":"2026-04-06T19:00","o":0.0692,"h":0.0716,"l":0.066,"c":0.0678},
{"d":"2026-04-07T07:00","o":0.066,"h":0.0708,"l":0.0642,"c":0.0689},{"d":"2026-04-07T19:00","o":0.0685,"h":0.0735,"l":0.0642,"c":0.0656},
{"d":"2026-04-08T07:00","o":0.0656,"h":0.0785,"l":0.0642,"c":0.0739},{"d":"2026-04-08T19:00","o":0.0735,"h":0.0799,"l":0.0723,"c":0.0748},
{"d":"2026-04-09T07:00","o":0.0748,"h":0.0764,"l":0.0685,"c":0.07},{"d":"2026-04-09T19:00","o":0.07,"h":0.0744,"l":0.0685,"c":0.0723},
{"d":"2026-04-10T07:00","o":0.0716,"h":0.0799,"l":0.07,"c":0.0723},{"d":"2026-04-10T19:00","o":0.0723,"h":0.1109,"l":0.0716,"c":0.1074},
{"d":"2026-04-11T07:00","o":0.1068,"h":0.1403,"l":0.105,"c":0.1147},{"d":"2026-04-11T19:00","o":0.1147,"h":0.1403,"l":0.1038,"c":0.1264},
{"d":"2026-04-12T07:00","o":0.1264,"h":0.1365,"l":0.1109,"c":0.123},{"d":"2026-04-12T19:00","o":0.1237,"h":0.132,"l":0.1079,"c":0.1129},
{"d":"2026-04-13T07:00","o":0.1135,"h":0.1171,"l":0.1038,"c":0.1103},{"d":"2026-04-13T19:00","o":0.1103,"h":0.1335,"l":0.1079,"c":0.1224},
{"d":"2026-04-14T07:00","o":0.1224,"h":0.132,"l":0.1158,"c":0.1197},{"d":"2026-04-14T19:00","o":0.1197,"h":0.132,"l":0.1158,"c":0.125},
{"d":"2026-04-15T07:00","o":0.125,"h":0.1292,"l":0.1171,"c":0.1217},{"d":"2026-04-15T19:00","o":0.1217,"h":0.1264,"l":0.1171,"c":0.1191},
{"d":"2026-04-16T07:00","o":0.1191,"h":0.1957,"l":0.1171,"c":0.1608},{"d":"2026-04-16T19:00","o":0.1608,"h":0.1699,"l":0.1473,"c":0.1573},
{"d":"2026-04-17T07:00","o":0.1573,"h":0.1968,"l":0.1539,"c":0.1884},{"d":"2026-04-17T19:00","o":0.1874,"h":0.1957,"l":0.1671,"c":0.1884},
{"d":"2026-04-18T07:00","o":0.1884,"h":0.1936,"l":0.1717,"c":0.1844},{"d":"2026-04-18T19:00","o":0.1844,"h":0.1895,"l":0.1671,"c":0.1727},
{"d":"2026-04-19T07:00","o":0.1727,"h":0.1915,"l":0.1653,"c":0.1824},{"d":"2026-04-19T19:00","o":0.1824,"h":0.1926,"l":0.0719,"c":0.1736},
{"d":"2026-04-20T07:00","o":0.1755,"h":0.1794,"l":0.1539,"c":0.1599},{"d":"2026-04-20T19:00","o":0.1635,"h":0.1784,"l":0.1564,"c":0.1608},
{"d":"2026-04-21T07:00","o":0.1635,"h":0.1794,"l":0.1539,"c":0.1582},{"d":"2026-04-21T19:00","o":0.1582,"h":0.1834,"l":0.1556,"c":0.1775},
{"d":"2026-04-22T07:00","o":0.1775,"h":0.1834,"l":0.1625,"c":0.1662},{"d":"2026-04-22T19:00","o":0.1653,"h":0.1926,"l":0.1635,"c":0.1874},
{"d":"2026-04-23T07:00","o":0.1874,"h":0.2601,"l":0.1834,"c":0.2183},{"d":"2026-04-23T19:00","o":0.2183,"h":0.2295,"l":0.1915,"c":0.1968},
{"d":"2026-04-24T07:00","o":0.1968,"h":0.2045,"l":0.1895,"c":0.1936},{"d":"2026-04-24T19:00","o":0.1957,"h":0.2045,"l":0.1895,"c":0.1936},
{"d":"2026-04-25T07:00","o":0.1947,"h":0.2045,"l":0.1834,"c":0.1968},{"d":"2026-04-25T19:00","o":0.1968,"h":0.2023,"l":0.1794,"c":0.1874},
{"d":"2026-04-26T07:00","o":0.1874,"h":0.1957,"l":0.1813,"c":0.1905},{"d":"2026-04-26T19:00","o":0.1905,"h":0.1936,"l":0.1699,"c":0.1765},
{"d":"2026-04-27T07:00","o":0.1775,"h":0.1834,"l":0.1582,"c":0.1635},{"d":"2026-04-27T19:00","o":0.1644,"h":0.1699,"l":0.1539,"c":0.1573},
{"d":"2026-04-28T07:00","o":0.1573,"h":0.2295,"l":0.1539,"c":0.2244},{"d":"2026-04-28T19:00","o":0.2231,"h":0.305,"l":0.2001,"c":0.2778},
{"d":"2026-04-29T07:00","o":0.2778,"h":0.2965,"l":0.2448,"c":0.2673},{"d":"2026-04-29T19:00","o":0.2673,"h":0.3308,"l":0.2588,"c":0.322},
{"d":"2026-04-30T07:00","o":0.3202,"h":0.3571,"l":0.3132,"c":0.3513},{"d":"2026-04-30T19:00","o":0.3513,"h":0.3984,"l":0.3399,"c":0.3876},
{"d":"2026-05-01T07:00","o":0.3876,"h":0.4116,"l":0.3494,"c":0.3571},{"d":"2026-05-01T19:00","o":0.3571,"h":0.4005,"l":0.3308,"c":0.3876},
{"d":"2026-05-02T07:00","o":0.3856,"h":0.5382,"l":0.3771,"c":0.4983},{"d":"2026-05-02T19:00","o":0.4983,"h":0.5122,"l":0.3273,"c":0.3362},
{"d":"2026-05-03T07:00","o":0.3362,"h":0.477,"l":0.329,"c":0.4644},{"d":"2026-05-03T19:00","o":0.4644,"h":0.6551,"l":0.4515,"c":0.6374},
{"d":"2026-05-04T07:00","o":0.6339,"h":0.8018,"l":0.6201,"c":0.7185},{"d":"2026-05-04T19:00","o":0.7185,"h":0.7389,"l":0.4905,"c":0.5714},
{"d":"2026-05-05T07:00","o":0.5714,"h":0.8238,"l":0.559,"c":0.7352},{"d":"2026-05-05T19:00","o":0.7306,"h":0.865,"l":0.711,"c":0.8018},
{"d":"2026-05-06T07:00","o":0.8018,"h":0.8377,"l":0.6732,"c":0.7071},{"d":"2026-05-06T19:00","o":0.7071,"h":0.7306,"l":0.6035,"c":0.627},
{"d":"2026-05-07T07:00","o":0.627,"h":0.6732,"l":0.5472,"c":0.5682},{"d":"2026-05-07T19:00","o":0.5682,"h":0.6101,"l":0.5507,"c":0.591},
{"d":"2026-05-08T07:00","o":0.5878,"h":0.6201,"l":0.5714,"c":0.5975},{"d":"2026-05-08T19:00","o":0.5942,"h":0.7185,"l":0.581,"c":0.6068},
{"d":"2026-05-09T07:00","o":0.6201,"h":0.6374,"l":0.5878,"c":0.6068},{"d":"2026-05-09T19:00","o":0.6101,"h":0.6305,"l":0.5352,"c":0.5507},
{"d":"2026-05-10T07:00","o":0.5537,"h":0.5714,"l":0.5122,"c":0.5382},{"d":"2026-05-10T19:00","o":0.5382,"h":0.556,"l":0.4116,"c":0.4186},
{"d":"2026-05-11T07:00","o":0.4186,"h":0.4719,"l":0.3533,"c":0.4428},{"d":"2026-05-11T19:00","o":0.4404,"h":0.5714,"l":0.43,"c":0.556},
{"d":"2026-05-12T07:00","o":0.556,"h":0.5714,"l":0.5264,"c":0.5439},{"d":"2026-05-12T19:00","o":0.5472,"h":0.6136,"l":0.507,"c":0.5207},
{"d":"2026-05-13T07:00","o":0.5207,"h":0.5352,"l":0.4468,"c":0.4644},{"d":"2026-05-13T19:00","o":0.4668,"h":0.4798,"l":0.3344,"c":0.3962},
{"d":"2026-05-14T07:00","o":0.3984,"h":0.4116,"l":0.3652,"c":0.3751},{"d":"2026-05-14T19:00","o":0.3751,"h":0.3856,"l":0.3456,"c":0.3533},
{"d":"2026-05-15T07:00","o":0.3533,"h":0.3632,"l":0.3308,"c":0.338},{"d":"2026-05-15T19:00","o":0.3399,"h":0.3494,"l":0.2719,"c":0.308},
{"d":"2026-05-16T07:00","o":0.308,"h":0.3273,"l":0.2932,"c":0.3166},{"d":"2026-05-16T19:00","o":0.3132,"h":0.3308,"l":0.2965,"c":0.3166},
{"d":"2026-05-17T07:00","o":0.3149,"h":0.3456,"l":0.305,"c":0.3166},{"d":"2026-05-17T19:00","o":0.3149,"h":0.3344,"l":0.2887,"c":0.3184},
{"d":"2026-05-18T07:00","o":0.3184,"h":0.3308,"l":0.284,"c":0.3115},{"d":"2026-05-18T19:00","o":0.3132,"h":0.3399,"l":0.2808,"c":0.2932},
{"d":"2026-05-19T07:00","o":0.2932,"h":0.3202,"l":0.2719,"c":0.2808},{"d":"2026-05-19T19:00","o":0.2808,"h":0.3815,"l":0.2747,"c":0.3238},
{"d":"2026-05-20T07:00","o":0.322,"h":0.3494,"l":0.2932,"c":0.3238},{"d":"2026-05-20T19:00","o":0.322,"h":0.3533,"l":0.3132,"c":0.3308},
{"d":"2026-05-21T07:00","o":0.3308,"h":0.3456,"l":0.305,"c":0.3166},{"d":"2026-05-21T19:00","o":0.3166,"h":0.3308,"l":0.2113,"c":0.2762},
{"d":"2026-05-22T07:00","o":0.2747,"h":0.2965,"l":0.2658,"c":0.2823},{"d":"2026-05-22T19:00","o":0.2808,"h":0.3166,"l":0.2747,"c":0.3115},
{"d":"2026-05-23T07:00","o":0.3115,"h":0.3202,"l":0.2965,"c":0.308},{"d":"2026-05-23T19:00","o":0.308,"h":0.3494,"l":0.2965,"c":0.3344},
{"d":"2026-05-24T07:00","o":0.3344,"h":0.3494,"l":0.3132,"c":0.3256},{"d":"2026-05-24T19:00","o":0.3273,"h":0.3494,"l":0.2887,"c":0.2965},
{"d":"2026-05-25T07:00","o":0.2965,"h":0.305,"l":0.2658,"c":0.2762},{"d":"2026-05-25T19:00","o":0.2762,"h":0.284,"l":0.2448,"c":0.256},
{"d":"2026-05-26T07:00","o":0.2575,"h":0.2658,"l":0.2159,"c":0.2219},{"d":"2026-05-26T19:00","o":0.2195,"h":0.2383,"l":0.2113,"c":0.2219},
{"d":"2026-05-27T07:00","o":0.2219,"h":0.2281,"l":0.1895,"c":0.1936},{"d":"2026-05-27T19:00","o":0.1936,"h":0.2136,"l":0.1813,"c":0.1915},
{"d":"2026-05-28T07:00","o":0.1936,"h":0.2113,"l":0.1736,"c":0.1926},{"d":"2026-05-28T19:00","o":0.1915,"h":0.2195,"l":0.1746,"c":0.2001},
{"d":"2026-05-29T07:00","o":0.199,"h":0.2136,"l":0.1864,"c":0.2034},{"d":"2026-05-29T19:00","o":0.2045,"h":0.2207,"l":0.1608,"c":0.1653},
{"d":"2026-05-30T07:00","o":0.1653,"h":0.2422,"l":0.1522,"c":0.1874},{"d":"2026-05-30T19:00","o":0.1874,"h":0.1968,"l":0.1662,"c":0.1699},
{"d":"2026-05-31T07:00","o":0.1699,"h":0.1854,"l":0.1653,"c":0.1746},{"d":"2026-05-31T19:00","o":0.1746,"h":0.1813,"l":0.1644,"c":0.1653},
{"d":"2026-06-01T07:00","o":0.1653,"h":0.2113,"l":0.1564,"c":0.2001},{"d":"2026-06-01T19:00","o":0.2001,"h":0.2435,"l":0.1717,"c":0.1784},
{"d":"2026-06-02T07:00","o":0.1784,"h":0.3202,"l":0.1473,"c":0.1522},{"d":"2026-06-02T19:00","o":0.1522,"h":0.2148,"l":0.1328,"c":0.1514},
{"d":"2026-06-03T07:00","o":0.1506,"h":0.1794,"l":0.1457,"c":0.1727},{"d":"2026-06-03T19:00","o":0.1717,"h":0.1834,"l":0.1625,"c":0.1755},
{"d":"2026-06-04T07:00","o":0.1755,"h":0.1834,"l":0.1671,"c":0.1746},{"d":"2026-06-04T19:00","o":0.1746,"h":0.1915,"l":0.1699,"c":0.1834},
{"d":"2026-06-05T07:00","o":0.1834,"h":0.1895,"l":0.1794,"c":0.1854},{"d":"2026-06-05T19:00","o":0.1854,"h":0.2183,"l":0.1813,"c":0.2045},
{"d":"2026-06-06T07:00","o":0.2045,"h":0.3815,"l":0.1979,"c":0.3494},{"d":"2026-06-06T19:00","o":0.3494,"h":0.3815,"l":0.2195,"c":0.2575},
{"d":"2026-06-07T07:00","o":0.2588,"h":0.2778,"l":0.2159,"c":0.2231},{"d":"2026-06-07T19:00","o":0.2231,"h":0.2778,"l":0.2183,"c":0.2719},
{"d":"2026-06-08T07:00","o":0.2719,"h":0.2808,"l":0.2159,"c":0.2269},{"d":"2026-06-08T19:00","o":0.2269,"h":0.2318,"l":0.1915,"c":0.2023},
{"d":"2026-06-09T07:00","o":0.2023,"h":0.2136,"l":0.1582,"c":0.1775},{"d":"2026-06-09T19:00","o":0.1775,"h":0.1834,"l":0.159,"c":0.1644},
{"d":"2026-06-10T07:00","o":0.1635,"h":0.1813,"l":0.1514,"c":0.1727},{"d":"2026-06-10T19:00","o":0.1717,"h":0.1947,"l":0.1662,"c":0.1813}
]
}
}
